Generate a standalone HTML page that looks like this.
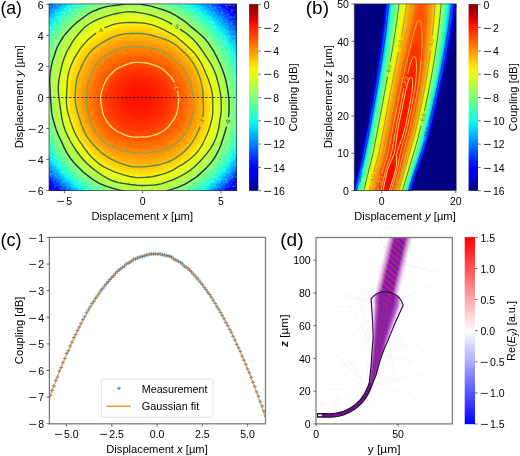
<!DOCTYPE html>
<html><head><meta charset="utf-8"><title>Figure</title>
<style>html,body{margin:0;padding:0;background:#fff}svg{display:block;font-family:'Liberation Sans', 'DejaVu Sans', sans-serif}</style></head>
<body><svg width="520" height="456" viewBox="0 0 520 456">
<defs><clipPath id="ca"><rect x="49" y="3.9" width="187.7" height="186.8"/></clipPath>
<filter id="nz" x="0" y="0" width="100%" height="100%" color-interpolation-filters="sRGB"><feTurbulence type="fractalNoise" baseFrequency="0.42" numOctaves="2" seed="7" result="t"/><feColorMatrix in="t" type="matrix" values="0 0 0 0 1  0 0 0 0 1  0 0 0 0 1  2.2 0 0 0 -1.1"/></filter>
<radialGradient id="gnz" gradientUnits="userSpaceOnUse" cx="139.5" cy="97" r="135"><stop offset="0" stop-color="#000"/><stop offset="0.25" stop-color="#222"/><stop offset="0.6" stop-color="#999"/><stop offset="1" stop-color="#fff"/></radialGradient>
<mask id="mnz" maskUnits="userSpaceOnUse" x="40" y="0" width="210" height="200"><rect x="40" y="0" width="210" height="200" fill="url(#gnz)"/></mask>
<linearGradient id="gj" x1="0" y1="0" x2="0" y2="1"><stop offset="0" stop-color="#800000"/><stop offset="0.03" stop-color="#9f0000"/><stop offset="0.06" stop-color="#c40000"/><stop offset="0.09" stop-color="#e80000"/><stop offset="0.12" stop-color="#ff1e00"/><stop offset="0.16" stop-color="#ff3b00"/><stop offset="0.19" stop-color="#ff5900"/><stop offset="0.22" stop-color="#ff7700"/><stop offset="0.25" stop-color="#ff9400"/><stop offset="0.28" stop-color="#ffb200"/><stop offset="0.31" stop-color="#ffd000"/><stop offset="0.34" stop-color="#feed00"/><stop offset="0.38" stop-color="#e4ff13"/><stop offset="0.41" stop-color="#caff2c"/><stop offset="0.44" stop-color="#b1ff46"/><stop offset="0.47" stop-color="#97ff60"/><stop offset="0.5" stop-color="#7dff7a"/><stop offset="0.53" stop-color="#63ff94"/><stop offset="0.56" stop-color="#49ffad"/><stop offset="0.59" stop-color="#30ffc7"/><stop offset="0.62" stop-color="#16ffe1"/><stop offset="0.66" stop-color="#00e0fb"/><stop offset="0.69" stop-color="#00c0ff"/><stop offset="0.72" stop-color="#00a0ff"/><stop offset="0.75" stop-color="#0080ff"/><stop offset="0.78" stop-color="#0060ff"/><stop offset="0.81" stop-color="#0040ff"/><stop offset="0.84" stop-color="#0020ff"/><stop offset="0.88" stop-color="#0000ff"/><stop offset="0.91" stop-color="#0000ed"/><stop offset="0.94" stop-color="#0000c8"/><stop offset="0.97" stop-color="#0000a4"/><stop offset="1" stop-color="#000080"/></linearGradient>
<clipPath id="cb"><rect x="354.2" y="3.9" width="102" height="186.7"/></clipPath>
<clipPath id="cc"><rect x="49.4" y="237.4" width="216.1" height="186.4"/></clipPath>
<clipPath id="cd"><rect x="316" y="237.5" width="136.3" height="186.4"/></clipPath>
<filter id="bl1" x="-20%" y="-20%" width="140%" height="140%"><feGaussianBlur stdDeviation="0.6"/></filter>
<filter id="bl2" x="-50%" y="-20%" width="200%" height="140%"><feGaussianBlur stdDeviation="2.2"/></filter>
<linearGradient id="gbm" gradientUnits="userSpaceOnUse" x1="-12" y1="0" x2="12" y2="0"><stop offset="0" stop-color="#fff" stop-opacity="0"/><stop offset="0.16" stop-color="#fff" stop-opacity="0.35"/><stop offset="0.3" stop-color="#fff" stop-opacity="1"/><stop offset="0.7" stop-color="#fff" stop-opacity="1"/><stop offset="0.84" stop-color="#fff" stop-opacity="0.35"/><stop offset="1" stop-color="#fff" stop-opacity="0"/></linearGradient>
<mask id="mbm" maskUnits="userSpaceOnUse" x="-20" y="-80" width="40" height="110"><rect x="-12" y="-80" width="24" height="110" fill="url(#gbm)"/></mask>
<pattern id="pst" patternUnits="userSpaceOnUse" width="4.6" height="4.6" patternTransform="rotate(29)"><rect width="4.6" height="4.6" fill="#8c1eb0"/><rect width="4.6" height="1.9" fill="#e2143e"/><rect y="2.3" width="4.6" height="1.9" fill="#3c24da"/></pattern>
<clipPath id="cln"><path d="M369.3 382.4L370.1 374.7L371 366.5L371.5 358.2L372.1 350L373.2 337.6L372.5 320.1L371.1 298.7C374 295 378.5 292 383.3 291.7C389 291.5 394 293.5 397.4 295.9C400 298 402 301.5 403.2 305.2L395.6 321.8L387.7 341.1L383.8 350L380.8 358.2L378.4 366.5L376.2 374.7L372.7 383.4Z"/></clipPath>
<filter id="bl3" x="-30%" y="-10%" width="160%" height="120%"><feGaussianBlur stdDeviation="1.1"/></filter>
<pattern id="pht" patternUnits="userSpaceOnUse" width="2.5" height="2.5" patternTransform="rotate(38)"><rect width="2.5" height="1.0" fill="#4c0a70"/><rect y="1.25" width="2.5" height="0.6" fill="#d24a9a"/></pattern>
<linearGradient id="gb" x1="0" y1="0" x2="0" y2="1"><stop offset="0" stop-color="#ff0000"/><stop offset="0.03" stop-color="#ff0e0e"/><stop offset="0.06" stop-color="#ff1e1e"/><stop offset="0.09" stop-color="#ff2e2e"/><stop offset="0.12" stop-color="#ff3e3e"/><stop offset="0.16" stop-color="#ff4e4e"/><stop offset="0.19" stop-color="#ff5e5e"/><stop offset="0.22" stop-color="#ff6e6e"/><stop offset="0.25" stop-color="#ff7e7e"/><stop offset="0.28" stop-color="#ff8e8e"/><stop offset="0.31" stop-color="#ff9e9e"/><stop offset="0.34" stop-color="#ffaeae"/><stop offset="0.38" stop-color="#ffbebe"/><stop offset="0.41" stop-color="#ffcece"/><stop offset="0.44" stop-color="#ffdede"/><stop offset="0.47" stop-color="#ffeeee"/><stop offset="0.5" stop-color="#fffefe"/><stop offset="0.53" stop-color="#f0f0ff"/><stop offset="0.56" stop-color="#e0e0ff"/><stop offset="0.59" stop-color="#d0d0ff"/><stop offset="0.62" stop-color="#c0c0ff"/><stop offset="0.66" stop-color="#b0b0ff"/><stop offset="0.69" stop-color="#a0a0ff"/><stop offset="0.72" stop-color="#9090ff"/><stop offset="0.75" stop-color="#8080ff"/><stop offset="0.78" stop-color="#7070ff"/><stop offset="0.81" stop-color="#6060ff"/><stop offset="0.84" stop-color="#5050ff"/><stop offset="0.88" stop-color="#4040ff"/><stop offset="0.91" stop-color="#3030ff"/><stop offset="0.94" stop-color="#2020ff"/><stop offset="0.97" stop-color="#1010ff"/><stop offset="1" stop-color="#0000ff"/></linearGradient></defs>
<rect width="520" height="456" fill="#fff"/>
<g clip-path="url(#ca)">
<rect x="49" y="3.9" width="187.7" height="186.8" fill="#0000fa"/>
<path d="M276.3 96.5L275.2 118L270.7 139.1L262.9 159.4L251.8 178.1L237.7 194.7L221.1 208.8L202.4 219.9L182.1 227.7L161 232.2L139.5 233.3L118.2 231L97.6 225.5L78.2 216.9L60.3 205.6L44.3 191.7L30.5 175.7L19.1 157.8L10.4 138.5L4.4 117.9L1.3 96.5L1.3 74.6L4.6 52.7L11.6 31.3L22.4 11.4L36.8 -6.2L54.4 -20.6L74.3 -31.4L95.7 -38.4L117.6 -41.7L139.5 -41.7L160.9 -38.6L181.5 -32.6L200.8 -23.9L218.7 -12.5L234.7 1.3L248.6 17.3L259.9 35.2L268.5 54.6L274 75.2Z" fill="#000084"/>
<path d="M274.8 96.5L273.8 117.8L269.3 138.7L261.5 158.7L250.6 177.2L236.7 193.7L220.2 207.6L201.7 218.5L181.7 226.3L160.8 230.8L139.5 231.8L118.4 229.5L98 224.1L78.8 215.6L61.1 204.4L45.3 190.7L31.6 174.9L20.4 157.2L11.7 138L5.8 117.7L2.8 96.5L2.8 74.8L6.1 53.1L13 32L23.6 12.3L37.9 -5.1L55.3 -19.4L75 -30L96.1 -36.9L117.8 -40.2L139.5 -40.2L160.7 -37.2L181 -31.3L200.2 -22.6L217.9 -11.4L233.7 2.3L247.4 18.1L258.6 35.8L267.1 55L272.5 75.4Z" fill="#00009b"/>
<path d="M273.4 96.5L272.3 117.5L267.9 138.2L260.2 158L249.4 176.3L235.6 192.6L219.3 206.4L201 217.2L181.2 224.9L160.5 229.3L139.5 230.4L118.7 228.1L98.5 222.7L79.5 214.3L62 203.2L46.3 189.7L32.8 174L21.7 156.5L13.1 137.6L7.3 117.4L4.3 96.5L4.2 75.1L7.5 53.6L14.3 32.7L24.9 13.2L39 -4L56.2 -18.1L75.7 -28.7L96.6 -35.5L118.1 -38.8L139.5 -38.7L160.4 -35.7L180.6 -29.9L199.5 -21.3L217 -10.2L232.7 3.3L246.2 19L257.3 36.5L265.7 55.5L271.1 75.7Z" fill="#0000b2"/>
<path d="M271.9 96.5L270.9 117.3L266.5 137.8L258.9 157.3L248.2 175.5L234.6 191.6L218.5 205.2L200.3 215.9L180.8 223.5L160.3 227.9L139.5 228.9L118.9 226.7L98.9 221.3L80.1 213.1L62.8 202.1L47.3 188.7L34 173.2L23 155.9L14.5 137.1L8.7 117.2L5.7 96.5L5.7 75.3L8.9 54.1L15.7 33.4L26.1 14.1L40.1 -2.9L57.1 -16.9L76.4 -27.3L97.1 -34.1L118.3 -37.3L139.5 -37.3L160.2 -34.3L180.1 -28.5L198.9 -20L216.2 -9L231.7 4.3L245.1 19.8L256.1 37.1L264.3 55.9L269.7 75.9Z" fill="#0000c8"/>
<path d="M270.4 96.5L269.4 117.1L265.1 137.3L257.6 156.7L247 174.6L233.5 190.5L217.6 204L199.7 214.6L180.3 222.1L160.1 226.4L139.5 227.4L119.1 225.3L99.4 220L80.8 211.8L63.6 200.9L48.3 187.7L35.1 172.3L24.2 155.2L15.9 136.7L10.1 117L7.2 96.5L7.2 75.5L10.4 54.5L17.1 34.1L27.4 15L41.2 -1.8L58 -15.6L77.1 -25.9L97.5 -32.6L118.5 -35.8L139.5 -35.8L160 -32.9L179.7 -27.1L198.2 -18.8L215.3 -7.9L230.7 5.3L243.9 20.6L254.8 37.8L263 56.4L268.3 76.1Z" fill="#0000da"/>
<path d="M269 96.5L268 116.8L263.7 136.9L256.3 156L245.8 173.7L232.5 189.5L216.7 202.8L199 213.3L179.9 220.7L159.8 225L139.5 226L119.3 223.8L99.8 218.6L81.4 210.5L64.5 199.8L49.3 186.7L36.3 171.5L25.5 154.6L17.2 136.2L11.6 116.8L8.7 96.5L8.6 75.8L11.8 55L18.4 34.8L28.6 15.9L42.3 -0.7L58.9 -14.4L77.8 -24.6L98 -31.2L118.8 -34.4L139.5 -34.3L159.8 -31.4L179.2 -25.8L197.6 -17.5L214.5 -6.7L229.7 6.3L242.8 21.5L253.5 38.4L261.6 56.8L266.8 76.3Z" fill="#0000f1"/>
<path d="M267.5 96.5L266.5 116.6L262.3 136.4L255 155.3L244.6 172.9L231.4 188.4L215.9 201.6L198.3 212L179.4 219.3L159.6 223.5L139.5 224.5L119.6 222.4L100.3 217.2L82.1 209.2L65.3 198.6L50.4 185.6L37.4 170.6L26.8 153.9L18.6 135.8L13 116.5L10.1 96.5L10.1 76L13.2 55.5L19.8 35.5L29.9 16.8L43.4 0.4L59.8 -13.1L78.5 -23.2L98.5 -29.8L119 -32.9L139.5 -32.9L159.5 -30L178.8 -24.4L196.9 -16.2L213.6 -5.6L228.6 7.4L241.6 22.3L252.2 39.1L260.2 57.3L265.4 76.6Z" fill="#0000ff"/>
<path d="M266.1 96.5L265.1 116.4L260.9 136L253.7 154.7L243.4 172L230.4 187.4L215 200.4L197.7 210.7L179 217.9L159.4 222.1L139.5 223.1L119.8 221L100.7 215.8L82.7 207.9L66.2 197.4L51.4 184.6L38.6 169.8L28.1 153.3L20 135.3L14.5 116.3L11.6 96.5L11.6 76.2L14.7 55.9L21.2 36.2L31.1 17.8L44.5 1.5L60.8 -11.9L79.2 -21.8L98.9 -28.3L119.2 -31.4L139.5 -31.4L159.3 -28.5L178.3 -23L196.3 -14.9L212.8 -4.4L227.6 8.4L240.4 23.2L250.9 39.7L258.8 57.7L264 76.8Z" fill="#0008ff"/>
<path d="M264.6 96.5L263.7 116.2L259.6 135.5L252.4 154L242.3 171.2L229.4 186.4L214.2 199.3L197 209.4L178.5 216.6L159.2 220.7L139.5 221.7L120 219.6L101.1 214.5L83.3 206.7L67 196.3L52.3 183.7L39.7 169L29.3 152.6L21.3 134.9L15.9 116.1L13.1 96.5L13 76.5L16.1 56.4L22.5 36.9L32.3 18.6L45.5 2.5L61.6 -10.7L79.9 -20.5L99.4 -26.9L119.5 -30L139.5 -30L159.1 -27.1L177.9 -21.7L195.6 -13.7L212 -3.2L226.6 9.4L239.3 24L249.7 40.4L257.5 58.2L262.5 77Z" fill="#0018ff"/>
<path d="M263.3 96.5L262.4 116L258.4 135.1L251.4 153.5L241.4 170.5L228.7 185.7L213.6 198.5L196.6 208.6L178.3 215.8L159 219.9L139.5 220.8L120.1 218.7L101.4 213.7L83.8 205.9L67.5 195.5L53.1 182.9L40.6 168.3L30.4 152.1L22.5 134.5L17.2 115.9L14.4 96.5L14.4 76.7L17.4 56.8L23.7 37.5L33.4 19.4L46.4 3.4L62.4 -9.7L80.4 -19.4L99.8 -25.8L119.7 -28.8L139.5 -28.7L158.9 -25.9L177.5 -20.5L195 -12.5L211.2 -2.2L225.7 10.3L238.2 24.8L248.4 41L256.2 58.6L261.2 77.2Z" fill="#002cff"/>
<path d="M262 96.5L261.2 115.8L257.3 134.8L250.4 153L240.6 169.9L228 185L213.1 197.8L196.2 207.8L178 215L158.9 219L139.5 220L120.3 217.9L101.7 212.8L84.2 205L68.1 194.7L53.8 182.2L41.5 167.7L31.4 151.6L23.7 134.1L18.5 115.7L15.8 96.5L15.7 76.9L18.7 57.2L24.8 38.1L34.4 20.2L47.3 4.3L63.1 -8.7L81 -18.4L100.1 -24.6L119.8 -27.6L139.5 -27.5L158.7 -24.7L177.1 -19.3L194.5 -11.4L210.4 -1.1L224.7 11.3L237.1 25.6L247.2 41.6L254.9 59L259.9 77.4Z" fill="#003cff"/>
<path d="M260.7 96.5L259.9 115.6L256.1 134.4L249.4 152.5L239.7 169.3L227.3 184.3L212.5 197L195.8 207L177.7 214.1L158.8 218.1L139.5 219.1L120.4 217L102 212L84.6 204.2L68.7 193.9L54.5 181.5L42.4 167L32.5 151L24.9 133.7L19.8 115.5L17.1 96.5L17.1 77.1L20 57.7L26 38.7L35.5 20.9L48.2 5.2L63.8 -7.7L81.5 -17.3L100.5 -23.5L120 -26.4L139.5 -26.3L158.5 -23.4L176.7 -18.1L193.9 -10.2L209.7 -0.1L223.8 12.2L236 26.4L246 42.2L253.6 59.4L258.5 77.7Z" fill="#004cff"/>
<path d="M259.3 96.5L258.6 115.4L255 134L248.4 152L238.9 168.7L226.6 183.6L212 196.2L195.4 206.2L177.4 213.2L158.6 217.2L139.5 218.2L120.6 216.1L102.3 211.1L85.1 203.3L69.3 193.1L55.3 180.7L43.3 166.4L33.6 150.5L26.1 133.3L21.1 115.3L18.5 96.5L18.5 77.3L21.3 58.1L27.2 39.3L36.5 21.7L49.1 6.1L64.5 -6.7L82.1 -16.2L100.9 -22.3L120.2 -25.2L139.5 -25L158.3 -22.2L176.3 -16.8L193.3 -9.1L208.9 1L222.8 13.2L234.9 27.2L244.8 42.9L252.3 59.9L257.2 77.9Z" fill="#0060ff"/>
<path d="M258 96.5L257.4 115.2L253.8 133.6L247.4 151.5L238 168.1L225.9 182.9L211.4 195.5L195 205.4L177.1 212.4L158.5 216.3L139.5 217.2L120.7 215.1L102.6 210.2L85.5 202.5L69.9 192.3L56 180L44.2 165.7L34.6 149.9L27.3 132.9L22.4 115L19.9 96.5L19.8 77.5L22.6 58.5L28.4 39.9L37.6 22.4L50 7L65.3 -5.7L82.7 -15.1L101.3 -21.1L120.4 -23.9L139.5 -23.8L158.1 -21L175.9 -15.6L192.7 -7.9L208.1 2.1L221.9 14.1L233.8 28L243.5 43.5L250.9 60.3L255.8 78.1Z" fill="#0070ff"/>
<path d="M256.6 96.5L256.1 115L252.7 133.3L246.3 150.9L237.1 167.4L225.2 182.2L210.8 194.7L194.5 204.5L176.9 211.5L158.3 215.4L139.5 216.3L120.9 214.2L102.9 209.2L85.9 201.6L70.5 191.5L56.8 179.2L45.2 165L35.7 149.4L28.6 132.5L23.7 114.8L21.3 96.5L21.2 77.8L23.9 58.9L29.6 40.5L38.6 23.2L50.9 7.9L66 -4.6L83.2 -13.9L101.7 -19.9L120.6 -22.7L139.5 -22.5L157.9 -19.7L175.5 -14.4L192.1 -6.8L207.3 3.1L221 15L232.7 28.8L242.3 44.1L249.6 60.7L254.4 78.3Z" fill="#0080ff"/>
<path d="M255.3 96.5L254.8 114.8L251.5 132.9L245.3 150.4L236.2 166.8L224.4 181.4L210.2 193.9L194.1 203.6L176.6 210.6L158.2 214.5L139.5 215.3L121 213.3L103.2 208.3L86.4 200.7L71.1 190.7L57.6 178.4L46.1 164.4L36.8 148.8L29.8 132.2L25.1 114.6L22.6 96.5L22.6 78L25.2 59.4L30.8 41.1L39.7 24L51.8 8.8L66.8 -3.6L83.8 -12.8L102.1 -18.7L120.8 -21.5L139.5 -21.3L157.7 -18.5L175.1 -13.2L191.5 -5.6L206.6 4.2L220 16L231.6 29.6L241.1 44.7L248.3 61.1L253.1 78.5Z" fill="#0090ff"/>
<path d="M253.9 96.5L253.5 114.6L250.3 132.5L244.2 149.9L235.3 166.1L223.7 180.7L209.6 193L193.6 202.8L176.3 209.6L158 213.5L139.5 214.4L121.2 212.3L103.5 207.4L86.9 199.8L71.7 189.8L58.3 177.7L47 163.7L37.9 148.3L31 131.8L26.4 114.4L24 96.5L23.9 78.2L26.5 59.8L32 41.7L40.8 24.8L52.7 9.7L67.5 -2.6L84.4 -11.7L102.4 -17.5L121 -20.2L139.5 -20L157.5 -17.2L174.7 -12L190.9 -4.4L205.8 5.3L219.1 16.9L230.5 30.4L239.9 45.4L247 61.6L251.7 78.7Z" fill="#00a0ff"/>
<path d="M252.6 96.5L252.2 114.4L249.1 132.1L243.2 149.3L234.4 165.5L222.9 179.9L209 192.2L193.2 201.9L176 208.7L157.9 212.6L139.5 213.4L121.3 211.3L103.8 206.4L87.3 198.9L72.3 189L59.1 176.9L48 163L39 147.7L32.2 131.4L27.7 114.2L25.4 96.5L25.3 78.4L27.8 60.2L33.2 42.4L41.9 25.6L53.6 10.6L68.3 -1.5L84.9 -10.6L102.8 -16.3L121.2 -19L139.5 -18.7L157.3 -15.9L174.3 -10.7L190.3 -3.3L205 6.3L218.1 17.9L229.4 31.2L238.6 46L245.7 62L250.4 78.9Z" fill="#00b0ff"/>
<path d="M251.2 96.5L250.9 114.1L247.9 131.7L242.1 148.8L233.5 164.8L222.2 179.2L208.4 191.4L192.7 201L175.6 207.8L157.7 211.6L139.5 212.4L121.5 210.3L104.1 205.5L87.8 198L73 188.1L59.9 176.1L48.9 162.3L40.1 147.2L33.5 131L29 114L26.8 96.5L26.7 78.6L29.1 60.6L34.5 43L42.9 26.3L54.6 11.6L69 -0.5L85.5 -9.4L103.2 -15.1L121.4 -17.7L139.5 -17.4L157.1 -14.7L173.9 -9.5L189.7 -2.1L204.2 7.4L217.1 18.9L228.3 32L237.4 46.6L244.4 62.4L249 79.2Z" fill="#00c0ff"/>
<path d="M249.9 96.5L249.6 113.9L246.7 131.3L241.1 148.2L232.6 164.1L221.4 178.4L207.8 190.5L192.3 200.1L175.3 206.8L157.6 210.6L139.5 211.4L121.6 209.3L104.4 204.5L88.3 197L73.6 187.2L60.7 175.3L49.8 161.6L41.2 146.6L34.7 130.6L30.4 113.8L28.2 96.5L28 78.8L30.4 61.1L35.7 43.6L44 27.1L55.5 12.5L69.8 0.6L86.1 -8.3L103.6 -13.9L121.6 -16.4L139.5 -16.2L156.9 -13.4L173.5 -8.3L189.1 -0.9L203.4 8.5L216.2 19.8L227.2 32.8L236.2 47.2L243 62.9L247.6 79.4Z" fill="#00d0ff"/>
<path d="M248.5 96.5L248.3 113.7L245.5 130.9L240 147.7L231.7 163.5L220.6 177.6L207.2 189.7L191.8 199.1L175 205.8L157.4 209.6L139.5 210.4L121.8 208.3L104.7 203.5L88.8 196.1L74.2 186.3L61.5 174.5L50.8 160.9L42.3 146L35.9 130.2L31.7 113.6L29.5 96.5L29.4 79.1L31.8 61.5L36.9 44.2L45.1 27.9L56.4 13.4L70.6 1.6L86.7 -7.1L104 -12.7L121.8 -15.2L139.5 -14.9L156.7 -12.1L173.1 -7L188.5 0.3L202.6 9.6L215.2 20.8L226 33.6L234.9 47.9L241.7 63.3L246.3 79.6Z" fill="#00e0fb"/>
<path d="M247.2 96.5L247 113.5L244.3 130.6L238.9 147.1L230.7 162.8L219.8 176.8L206.6 188.8L191.3 198.2L174.7 204.8L157.2 208.6L139.5 209.4L122 207.3L105.1 202.5L89.2 195.1L74.9 185.4L62.3 173.7L51.8 160.2L43.4 145.5L37.2 129.7L33.1 113.4L30.9 96.5L30.8 79.3L33.1 61.9L38.1 44.8L46.2 28.7L57.4 14.4L71.3 2.7L87.3 -6L104.4 -11.5L122 -13.9L139.5 -13.6L156.5 -10.8L172.7 -5.8L187.9 1.5L201.9 10.7L214.3 21.7L224.9 34.4L233.7 48.5L240.4 63.7L244.9 79.8Z" fill="#09f0ee"/>
<path d="M245.8 96.5L245.7 113.3L243.1 130.2L237.8 146.6L229.8 162.1L219 176L205.9 187.9L190.8 197.3L174.4 203.8L157.1 207.5L139.5 208.3L122.1 206.3L105.4 201.5L89.7 194.2L75.5 184.6L63.1 172.9L52.7 159.5L44.5 144.9L38.4 129.3L34.4 113.1L32.3 96.5L32.2 79.5L34.4 62.4L39.4 45.5L47.3 29.5L58.3 15.3L72.1 3.8L87.9 -4.8L104.8 -10.2L122.2 -12.6L139.5 -12.3L156.3 -9.5L172.3 -4.5L187.3 2.6L201.1 11.8L213.3 22.7L223.8 35.2L232.5 49.1L239.1 64.1L243.5 80Z" fill="#13fce4"/>
<path d="M244.4 96.5L244.4 113.1L241.9 129.8L236.7 146L228.8 161.4L218.2 175.2L205.3 187L190.3 196.3L174 202.8L156.9 206.5L139.5 207.2L122.3 205.2L105.7 200.5L90.2 193.2L76.2 183.6L63.9 172.1L53.7 158.8L45.6 144.3L39.7 128.9L35.7 112.9L33.7 96.5L33.6 79.7L35.7 62.8L40.6 46.1L48.4 30.3L59.3 16.3L72.9 4.8L88.5 -3.6L105.2 -9L122.4 -11.3L139.5 -11L156.1 -8.2L171.9 -3.3L186.7 3.8L200.3 12.9L212.3 23.7L222.7 36L231.2 49.8L237.7 64.6L242.2 80.2Z" fill="#1fffd7"/>
<path d="M243 96.5L243.1 112.9L240.6 129.4L235.6 145.5L227.8 160.7L217.4 174.4L204.6 186.1L189.9 195.3L173.7 201.8L156.7 205.4L139.5 206.2L122.5 204.1L106.1 199.4L90.7 192.2L76.9 182.7L64.8 171.2L54.7 158.1L46.8 143.7L40.9 128.5L37.1 112.7L35.1 96.5L35 79.9L37.1 63.2L41.8 46.7L49.5 31.1L60.2 17.2L73.7 5.9L89.1 -2.4L105.6 -7.7L122.6 -10L139.5 -9.7L155.9 -6.9L171.5 -2L186.1 5L199.5 14L211.4 24.6L221.6 36.9L230 50.4L236.4 65L240.8 80.5Z" fill="#2cffca"/>
<path d="M241.7 96.5L241.7 112.7L239.4 129L234.5 144.9L226.9 160L216.6 173.6L203.9 185.2L189.3 194.3L173.4 200.7L156.6 204.3L139.5 205.1L122.6 203.1L106.4 198.4L91.2 191.2L77.5 181.8L65.6 170.4L55.7 157.4L47.9 143.2L42.2 128.1L38.4 112.5L36.5 96.5L36.4 80.2L38.4 63.7L43.1 47.4L50.7 31.9L61.2 18.2L74.5 7L89.7 -1.3L106 -6.5L122.8 -8.7L139.5 -8.3L155.7 -5.6L171.1 -0.7L185.5 6.2L198.7 15L210.4 25.6L220.5 37.7L228.7 51L235.1 65.4L239.4 80.7Z" fill="#36ffc1"/>
<path d="M240.3 96.5L240.4 112.5L238.2 128.6L233.4 144.3L225.9 159.3L215.8 172.8L203.3 184.3L188.8 193.3L173 199.7L156.4 203.2L139.5 204L122.8 202L106.7 197.3L91.7 190.2L78.2 180.9L66.4 169.6L56.7 156.7L49.1 142.6L43.5 127.7L39.8 112.3L37.9 96.5L37.8 80.4L39.8 64.1L44.3 48L51.8 32.8L62.2 19.2L75.3 8.1L90.3 -0.1L106.5 -5.2L123 -7.4L139.5 -7L155.5 -4.3L170.7 0.5L184.9 7.4L197.9 16.1L209.4 26.6L219.4 38.5L227.5 51.7L233.7 65.9L238 80.9Z" fill="#43ffb4"/>
<path d="M238.9 96.5L239.1 112.3L236.9 128.2L232.2 143.8L224.9 158.6L215 172L202.6 183.3L188.3 192.3L172.7 198.6L156.2 202.1L139.5 202.9L123 200.9L107.1 196.3L92.3 189.2L78.9 179.9L67.3 168.7L57.7 155.9L50.2 142L44.7 127.3L41.2 112.1L39.3 96.5L39.2 80.6L41.1 64.5L45.6 48.6L52.9 33.6L63.1 20.1L76.1 9.2L90.9 1.1L106.9 -3.9L123.2 -6.1L139.5 -5.7L155.3 -3L170.3 1.8L184.3 8.6L197.1 17.2L208.5 27.5L218.2 39.3L226.2 52.3L232.4 66.3L236.7 81.1Z" fill="#4dffaa"/>
<path d="M237.5 96.5L237.7 112.1L235.7 127.7L231.1 143.2L223.9 157.8L214.1 171.1L201.9 182.4L187.8 191.3L172.3 197.5L156.1 201L139.5 201.7L123.1 199.7L107.4 195.2L92.8 188.2L79.6 179L68.1 167.9L58.7 155.2L51.4 141.4L46 126.9L42.5 111.9L40.7 96.5L40.6 80.8L42.5 65L46.8 49.3L54 34.4L64.1 21.1L76.9 10.3L91.5 2.3L107.3 -2.7L123.5 -4.8L139.5 -4.4L155 -1.7L169.9 3.1L183.7 9.8L196.3 18.3L207.5 28.5L217.1 40.1L225 52.9L231.1 66.7L235.3 81.3Z" fill="#5aff9d"/>
<path d="M236.1 96.5L236.4 111.8L234.4 127.3L230 142.6L222.9 157.1L213.3 170.3L201.2 181.4L187.3 190.3L172 196.5L155.9 199.9L139.5 200.6L123.3 198.6L107.8 194.1L93.3 187.1L80.3 178L69 167L59.7 154.5L52.5 140.8L47.3 126.5L43.9 111.6L42.1 96.5L42 81.1L43.8 65.4L48.1 49.9L55.2 35.2L65.1 22.1L77.7 11.4L92.1 3.6L107.7 -1.4L123.7 -3.5L139.5 -3L154.8 -0.4L169.4 4.4L183.1 11L195.5 19.5L206.5 29.5L216 40.9L223.8 53.6L229.7 67.2L233.9 81.6Z" fill="#63ff94"/>
<path d="M234.7 96.5L235 111.6L233.1 126.9L228.8 142L221.9 156.4L212.4 169.4L200.5 180.5L186.7 189.2L171.6 195.3L155.7 198.7L139.5 199.4L123.5 197.5L108.2 193L93.9 186.1L81 177L69.9 166.1L60.7 153.7L53.7 140.2L48.6 126L45.3 111.4L43.6 96.5L43.4 81.3L45.2 65.9L49.4 50.6L56.3 36.1L66.1 23.1L78.5 12.5L92.8 4.8L108.1 -0.1L123.9 -2.1L139.5 -1.7L154.6 1L169 5.7L182.4 12.2L194.7 20.6L205.5 30.5L214.9 41.8L222.5 54.2L228.4 67.6L232.5 81.8Z" fill="#6dff8a"/>
<path d="M233.3 96.5L233.7 111.4L231.9 126.5L227.6 141.4L220.9 155.6L211.5 168.5L199.8 179.5L186.2 188.2L171.3 194.2L155.5 197.6L139.5 198.3L123.7 196.3L108.5 191.8L94.4 185L81.7 176.1L70.7 165.3L61.8 153L54.8 139.6L49.9 125.6L46.6 111.2L45 96.5L44.8 81.5L46.6 66.3L50.7 51.2L57.5 36.9L67.1 24.1L79.3 13.6L93.4 6L108.5 1.2L124.1 -0.8L139.5 -0.3L154.4 2.3L168.6 6.9L181.8 13.5L193.9 21.7L204.6 31.4L213.7 42.6L221.3 54.8L227.1 68L231.1 82Z" fill="#77ff80"/>
<path d="M232 96.5L232.3 111.2L230.6 126.1L226.5 140.8L219.8 154.9L210.6 167.6L199.1 178.5L185.7 187.1L170.9 193.1L155.3 196.4L139.5 197.1L123.9 195.1L108.9 190.7L94.9 183.9L82.4 175.1L71.6 164.4L62.8 152.2L56 139L51.1 125.2L48 111L46.4 96.5L46.2 81.7L47.9 66.7L51.9 51.9L58.6 37.7L68.1 25.1L80.1 14.8L94 7.2L109 2.5L124.3 0.6L139.5 1L154.2 3.7L168.2 8.2L181.2 14.7L193.1 22.8L203.6 32.4L212.6 43.4L220 55.5L225.7 68.5L229.7 82.2Z" fill="#83ff73"/>
<path d="M230.6 96.5L231 111L229.3 125.7L225.3 140.2L218.8 154.1L209.8 166.8L198.4 177.5L185.1 186L170.5 191.9L155.1 195.2L139.5 195.9L124.1 193.9L109.3 189.6L95.5 182.9L83.1 174.1L72.5 163.5L63.9 151.5L57.2 138.4L52.4 124.8L49.4 110.8L47.8 96.5L47.7 82L49.3 67.2L53.2 52.5L59.8 38.6L69.1 26.1L80.9 15.9L94.6 8.5L109.4 3.8L124.5 1.9L139.5 2.4L154 5L167.8 9.5L180.6 15.9L192.2 23.9L202.6 33.4L211.5 44.2L218.7 56.1L224.4 68.9L228.3 82.4Z" fill="#8dff6a"/>
<path d="M229.1 96.5L229.6 110.8L228 125.3L224.1 139.6L217.7 153.4L208.9 165.9L197.6 176.5L184.5 184.9L170.1 190.8L154.9 194L139.5 194.7L124.3 192.7L109.6 188.4L96.1 181.8L83.9 173.1L73.4 162.6L64.9 150.7L58.4 137.8L53.7 124.4L50.8 110.6L49.2 96.5L49.1 82.2L50.7 67.6L54.5 53.2L60.9 39.4L70.1 27.1L81.8 17.1L95.3 9.7L109.8 5.2L124.7 3.3L139.5 3.8L153.8 6.3L167.3 10.8L179.9 17.1L191.4 25L201.6 34.4L210.3 45L217.5 56.8L223 69.4L226.9 82.7Z" fill="#97ff60"/>
<path d="M227.8 96.5L228.2 110.6L226.7 124.8L222.9 139L216.6 152.5L207.8 164.8L196.8 175.4L183.9 183.6L169.7 189.5L154.7 192.7L139.5 193.3L124.5 191.4L110.1 187.1L96.7 180.6L84.7 172L74.4 161.6L66.1 149.9L59.7 137.2L55.1 123.9L52.3 110.3L50.8 96.5L50.6 82.4L52.2 68.1L55.9 53.9L62.2 40.4L71.2 28.2L82.7 18.3L96 11.1L110.3 6.6L125 4.7L139.5 5.2L153.6 7.8L166.9 12.2L179.3 18.5L190.5 26.3L200.5 35.5L209.1 45.9L216.2 57.4L221.7 69.8L225.5 82.9Z" fill="#a0ff56"/>
<path d="M226.4 96.5L226.9 110.3L225.4 124.4L221.6 138.3L215.4 151.6L206.7 163.7L195.9 174.1L183.2 182.2L169.2 188L154.5 191.2L139.5 191.8L124.7 189.9L110.5 185.7L97.4 179.2L85.6 170.7L75.5 160.5L67.3 148.9L61.1 136.5L56.7 123.4L53.9 110.1L52.4 96.5L52.3 82.7L53.9 68.7L57.5 54.7L63.7 41.4L72.5 29.5L83.8 19.8L96.7 12.6L110.8 8.1L125.2 6.2L139.5 6.7L153.3 9.3L166.4 13.8L178.5 19.9L189.5 27.6L199.3 36.7L207.7 46.9L214.8 58.2L220.3 70.3L224.2 83.1Z" fill="#aaff4d"/>
<path d="M225.1 96.5L225.6 110.1L224 124L220.3 137.7L214.1 150.7L205.6 162.6L194.9 172.8L182.5 180.8L168.7 186.5L154.3 189.6L139.5 190.3L124.9 188.4L111 184.2L98.1 177.8L86.5 169.5L76.6 159.4L68.6 148L62.5 135.7L58.2 122.9L55.4 109.8L54.1 96.5L54 83L55.5 69.2L59.1 55.6L65.2 42.5L73.8 30.8L84.8 21.2L97.5 14.1L111.3 9.6L125.4 7.8L139.5 8.2L153.1 10.8L165.9 15.3L177.8 21.4L188.5 29L198.1 37.9L206.4 47.9L213.3 58.9L218.8 70.7L222.8 83.3Z" fill="#b4ff43"/>
<path d="M223.7 96.5L224.2 109.9L222.7 123.5L219 137L212.9 149.8L204.5 161.5L194 171.5L181.7 179.4L168.2 185L154 188.1L139.5 188.8L125.2 186.9L111.5 182.8L98.7 176.5L87.4 168.2L77.7 158.3L69.9 147.1L63.9 135L59.7 122.4L57 109.6L55.7 96.5L55.7 83.2L57.2 69.8L60.7 56.4L66.7 43.6L75.1 32.1L85.8 22.6L98.3 15.6L111.8 11.2L125.7 9.3L139.5 9.8L152.8 12.3L165.4 16.8L177 22.9L187.5 30.4L196.9 39.1L205.1 48.9L211.9 59.6L217.4 71.2L221.4 83.5Z" fill="#beff39"/>
<path d="M222.4 96.5L222.9 109.7L221.4 123.1L217.6 136.3L211.6 148.9L203.3 160.3L193 170.2L181 178L167.8 183.5L153.8 186.6L139.5 187.2L125.4 185.5L111.9 181.4L99.4 175.1L88.3 167L78.8 157.2L71.1 146.2L65.3 134.3L61.2 121.9L58.6 109.3L57.4 96.5L57.3 83.5L58.8 70.3L62.3 57.2L68.1 44.6L76.4 33.4L86.9 24L99 17.1L112.3 12.7L125.9 10.8L139.5 11.3L152.6 13.9L164.9 18.3L176.3 24.3L186.5 31.7L195.7 40.3L203.7 49.8L210.5 60.3L216 71.6L220 83.7Z" fill="#c7ff30"/>
<path d="M221 96.5L221.5 109.5L220 122.7L216.3 135.6L210.4 148L202.2 159.2L192.1 168.9L180.3 176.5L167.3 182L153.5 185.1L139.5 185.7L125.6 184L112.4 179.9L100.1 173.8L89.2 165.7L79.9 156.1L72.4 145.3L66.7 133.6L62.7 121.5L60.2 109.1L59 96.5L59 83.7L60.5 70.8L63.9 58L69.6 45.7L77.6 34.6L87.9 25.5L99.8 18.6L112.8 14.2L126.2 12.3L139.5 12.8L152.3 15.4L164.4 19.8L175.5 25.8L185.6 33.1L194.5 41.5L202.4 50.8L209.1 61L214.6 72.1L218.6 84Z" fill="#ceff29"/>
<path d="M219.4 96.5L219.9 109.2L218.4 122.1L214.8 134.9L209 147L201 158L191.1 167.5L179.5 175L166.8 180.4L153.3 183.5L139.5 184.1L125.9 182.4L112.9 178.4L100.8 172.4L90.1 164.5L81 155L73.6 144.4L68 132.9L64 121L61.6 108.8L60.4 96.5L60.5 84L62.1 71.3L65.5 58.8L71.2 46.9L79.1 36.1L89.1 27.2L100.8 20.5L113.4 16.2L126.5 14.3L139.5 14.7L152.1 17.1L163.9 21.4L174.8 27.3L184.6 34.4L193.4 42.6L201.1 51.7L207.8 61.7L213.1 72.6L217.1 84.2Z" fill="#d7ff1f"/>
<path d="M217.8 96.5L218.3 109L216.9 121.6L213.3 134.1L207.6 146L199.8 156.8L190.1 166.1L178.8 173.5L166.3 178.9L153 181.9L139.5 182.6L126.1 180.9L113.4 177L101.5 171L91 163.2L82 154L74.8 143.5L69.2 132.3L65.3 120.6L62.9 108.6L61.8 96.5L62 84.2L63.6 71.8L67.1 59.6L72.7 48L80.5 37.5L90.3 28.8L101.7 22.3L114 18.1L126.8 16.2L139.5 16.5L151.8 18.9L163.4 23.1L174 28.8L183.6 35.7L192.3 43.7L199.9 52.6L206.4 62.4L211.7 73.1L215.5 84.5Z" fill="#e1ff16"/>
<path d="M216.2 96.5L216.7 108.7L215.3 121.1L211.8 133.3L206.2 145L198.6 155.6L189.1 164.7L178 172.1L165.8 177.3L152.8 180.3L139.5 181L126.4 179.4L113.8 175.5L102.3 169.6L91.9 162L83.1 152.9L76 142.6L70.5 131.6L66.7 120.2L64.3 108.4L63.2 96.5L63.5 84.5L65.2 72.4L68.7 60.4L74.3 49.1L82 39L91.5 30.5L102.6 24.1L114.6 20L127.1 18.1L139.5 18.4L151.5 20.7L162.8 24.7L173.3 30.3L182.7 37L191.1 44.9L198.6 53.6L205 63.1L210.2 73.5L214 84.7Z" fill="#ebff0c"/>
<path d="M214.7 96.5L215.1 108.5L213.7 120.6L210.3 132.6L204.8 144L197.4 154.4L188.1 163.3L177.2 170.6L165.3 175.8L152.5 178.8L139.5 179.4L126.6 177.8L114.3 174L103 168.2L92.9 160.7L84.2 151.8L77.2 141.8L71.8 131L68 119.7L65.6 108.2L64.7 96.5L64.9 84.7L66.7 72.9L70.3 61.2L75.8 50.2L83.4 40.4L92.7 32.2L103.5 25.9L115.2 21.9L127.4 20L139.5 20.2L151.2 22.4L162.3 26.3L172.5 31.7L181.7 38.4L190 46L197.3 54.5L203.6 63.8L208.7 74L212.4 84.9Z" fill="#f1fc06"/>
<path d="M213.1 96.5L213.5 108.2L212.1 120.1L208.8 131.8L203.4 143L196.1 153.1L187.1 162L176.5 169.1L164.8 174.2L152.3 177.2L139.5 177.9L126.9 176.3L114.8 172.5L103.7 166.8L93.8 159.5L85.3 150.7L78.4 140.9L73.1 130.3L69.3 119.3L67 108L66.1 96.5L66.4 84.9L68.3 73.4L71.9 62.1L77.4 51.4L84.8 41.8L93.9 33.8L104.5 27.7L115.9 23.7L127.7 21.9L139.5 22.1L151 24.2L161.8 28L171.8 33.2L180.8 39.7L188.9 47.1L196.1 55.4L202.2 64.5L207.2 74.5L210.9 85.2Z" fill="#fbf100"/>
<path d="M211.5 96.5L212 108L210.6 119.6L207.4 131.1L202.2 142L195 152L186.1 160.7L175.7 167.6L164.2 172.7L152 175.5L139.5 176.2L127.1 174.6L115.3 170.9L104.4 165.4L94.7 158.2L86.4 149.6L79.6 140L74.4 129.7L70.7 118.9L68.5 107.8L67.5 96.5L67.9 85.2L69.8 73.9L73.4 62.8L78.8 52.4L86.1 43.1L95.1 35.3L105.3 29.5L116.5 25.6L128 23.8L139.5 23.9L150.7 25.8L161.3 29.4L171.1 34.4L180.1 40.7L188.1 47.9L195.1 56.1L201.1 65.1L206 74.9L209.5 85.4Z" fill="#ffea00"/>
<path d="M210 96.5L210.4 107.7L209.1 119.1L206 130.4L200.9 141.1L193.9 150.9L185.2 159.4L175 166.2L163.7 171.1L151.8 173.9L139.5 174.5L127.4 172.9L115.8 169.3L105.2 163.9L95.7 156.8L87.5 148.5L80.9 139.1L75.7 129L72.1 118.4L69.9 107.5L69 96.5L69.4 85.4L71.3 74.3L74.8 63.5L80.2 53.4L87.3 44.3L96.1 36.8L106.2 31.1L117.1 27.4L128.3 25.7L139.5 25.7L150.4 27.5L160.8 30.9L170.5 35.6L179.4 41.6L187.3 48.7L194.3 56.7L200.1 65.6L204.7 75.3L208.1 85.6Z" fill="#ffde00"/>
<path d="M208.5 96.5L208.9 107.5L207.6 118.6L204.6 129.7L199.6 140.2L192.8 149.8L184.3 158.1L174.3 164.8L163.2 169.5L151.5 172.2L139.5 172.8L127.7 171.2L116.4 167.7L105.9 162.4L96.6 155.5L88.6 147.4L82.1 138.2L77.1 128.3L73.5 117.9L71.4 107.3L70.5 96.5L70.9 85.6L72.8 74.8L76.3 64.3L81.5 54.4L88.6 45.6L97.2 38.3L107.1 32.8L117.7 29.3L128.6 27.5L139.5 27.6L150.2 29.2L160.4 32.3L169.9 36.8L178.7 42.5L186.6 49.4L193.4 57.3L199.1 66.1L203.5 75.7L206.7 85.9Z" fill="#ffd700"/>
<path d="M207 96.5L207.3 107.2L206.1 118.1L203.2 128.9L198.4 139.3L191.7 148.7L183.4 156.9L173.6 163.4L162.7 168L151.2 170.5L139.5 171L127.9 169.5L116.9 166.1L106.7 160.9L97.6 154.2L89.8 146.2L83.4 137.3L78.4 127.6L74.9 117.5L72.8 107.1L72 96.5L72.4 85.9L74.2 75.3L77.7 65L82.9 55.4L89.8 46.8L98.3 39.8L107.9 34.5L118.2 31.1L128.9 29.4L139.5 29.4L149.9 30.8L159.9 33.7L169.3 37.9L178 43.4L185.8 50.2L192.5 58L198 66.7L202.3 76.1L205.3 86.1Z" fill="#ffd000"/>
<path d="M205.5 96.5L205.8 107L204.6 117.7L201.8 128.2L197.1 138.4L190.6 147.6L182.4 155.6L172.8 161.9L162.2 166.4L151 168.9L139.5 169.3L128.2 167.8L117.4 164.5L107.4 159.4L98.5 152.9L90.9 145.1L84.6 136.4L79.8 126.9L76.4 117L74.3 106.8L73.5 96.5L73.9 86.1L75.7 75.8L79.1 65.7L84.2 56.3L91 48L99.3 41.2L108.8 36.2L118.8 32.9L129.2 31.2L139.5 31.2L149.6 32.5L159.4 35.1L168.8 39.1L177.4 44.4L185.1 50.9L191.6 58.6L197 67.2L201.1 76.5L203.9 86.3Z" fill="#ffc400"/>
<path d="M204 96.5L204.2 106.8L203.1 117.2L200.4 127.5L195.9 137.5L189.5 146.5L181.5 154.3L172.1 160.5L161.7 164.8L150.7 167.2L139.5 167.6L128.5 166.1L117.9 162.9L108.2 157.9L99.5 151.6L92 144L85.9 135.5L81.1 126.2L77.8 116.6L75.7 106.6L75 96.5L75.4 86.3L77.2 76.3L80.5 66.5L85.6 57.3L92.2 49.2L100.4 42.7L109.6 37.8L119.4 34.6L129.5 33.1L139.5 32.9L149.4 34.1L159 36.5L168.2 40.3L176.7 45.4L184.3 51.7L190.7 59.3L195.9 67.8L199.8 76.9L202.5 86.5Z" fill="#ffbd00"/>
<path d="M202.5 96.5L202.8 106.5L201.7 116.7L199.1 126.8L194.7 136.6L188.4 145.4L180.6 153L171.3 158.9L161.1 163.1L150.4 165.3L139.5 165.7L128.8 164.3L118.5 161.2L108.9 156.5L100.4 150.4L93 143L87 134.7L82.4 125.6L79.1 116.1L77.2 106.4L76.5 96.5L77 86.6L78.8 76.8L82.1 67.2L87 58.3L93.5 50.5L101.5 44.2L110.4 39.5L120 36.4L129.8 34.9L139.5 34.8L149.1 35.9L158.5 38.2L167.4 41.7L175.8 46.6L183.2 52.8L189.6 60.1L194.7 68.4L198.5 77.3L201.1 86.7Z" fill="#ffb600"/>
<path d="M201.1 96.5L201.4 106.3L200.4 116.3L197.8 126.2L193.5 135.7L187.4 144.4L179.6 151.7L170.5 157.4L160.5 161.3L150.1 163.4L139.5 163.7L129.1 162.4L119 159.5L109.7 155.1L101.2 149.2L93.9 142.1L88 133.9L83.5 125L80.4 115.7L78.7 106.1L78.1 96.5L78.6 86.9L80.4 77.3L83.6 68L88.4 59.4L94.8 51.8L102.6 45.7L111.3 41.2L120.6 38.3L130.1 36.8L139.5 36.7L148.8 37.7L157.9 39.9L166.6 43.3L174.7 48L182.1 53.9L188.3 61.1L193.3 69.1L197 77.8L199.6 87Z" fill="#ffae00"/>
<path d="M199.6 96.5L199.7 110.3L197 124.2L190.7 137.4L180.9 148.5L168.3 156.4L154.2 160.8L139.5 161.8L125.1 159.6L111.7 154.3L99.9 146.2L90.6 135.5L84.2 123.1L80.7 109.9L79.6 96.5L80.8 83.1L84.6 70.1L91.5 58.2L101.4 48.7L113.4 42.3L126.4 39.1L139.5 38.6L152.3 40.3L164.6 44.3L175.9 50.9L185.3 59.9L192.5 71L197.2 83.3Z" fill="#ffa700"/>
<path d="M198.2 96.5L198.4 109.9L195.7 123.6L189.6 136.4L179.9 147.2L167.6 154.8L153.7 158.9L139.5 159.8L125.5 157.8L112.4 152.9L100.8 145.1L91.6 134.7L85.4 122.5L82.1 109.6L81.2 96.5L82.4 83.5L86.2 70.8L92.9 59.3L102.5 50.1L114.2 44L126.8 40.9L139.5 40.5L151.9 42.1L163.9 45.9L174.8 52.2L184.1 60.9L191.1 71.7L195.8 83.7Z" fill="#ff9f00"/>
<path d="M196.7 96.5L197 109.6L194.4 122.9L188.4 135.5L178.9 145.9L166.8 153.2L153.3 157L139.5 157.9L125.9 156L113.1 151.4L101.7 143.9L92.7 133.8L86.6 122L83.5 109.3L82.7 96.5L84 83.8L87.7 71.6L94.3 60.4L103.6 51.5L115 45.7L127.2 42.8L139.5 42.3L151.5 43.8L163.1 47.5L173.8 53.5L182.8 61.9L189.7 72.3L194.3 84Z" fill="#ff9800"/>
<path d="M195.3 96.5L195.6 109.3L193.1 122.3L187.2 134.5L177.9 144.6L166 151.6L152.9 155.2L139.5 155.9L126.3 154.2L113.8 149.9L102.6 142.8L93.7 133L87.9 121.4L84.9 109L84.3 96.5L85.6 84.2L89.3 72.3L95.6 61.5L104.8 52.9L115.8 47.3L127.6 44.5L139.5 44.1L151.1 45.6L162.4 49L172.7 54.8L181.6 62.9L188.3 73L192.9 84.3Z" fill="#ff9100"/>
<path d="M193.8 96.5L194.2 109L191.8 121.7L186 133.6L176.9 143.4L165.2 150L152.5 153.3L139.5 154L126.7 152.5L114.5 148.5L103.5 141.7L94.8 132.2L89.1 120.8L86.3 108.6L85.8 96.5L87.2 84.6L90.8 73L97 62.6L105.9 54.3L116.6 48.9L128 46.3L139.5 45.9L150.7 47.3L161.6 50.6L171.7 56.1L180.4 63.9L187 73.6L191.4 84.7Z" fill="#ff8900"/>
<path d="M192.3 96.5L192.7 108.6L190.3 121L184.7 132.5L175.8 142L164.5 148.3L152.1 151.6L139.5 152.3L127.1 150.8L115.2 147L104.4 140.5L96 131.2L90.4 120.1L87.7 108.3L87.3 96.5L88.8 84.9L92.3 73.8L98.4 63.7L107 55.8L117.4 50.6L128.4 48L139.5 47.7L150.4 49L160.9 52.1L170.7 57.4L179.1 64.9L185.6 74.3L190 85Z" fill="#ff8200"/>
<path d="M190.8 96.5L191.1 108.3L188.8 120.2L183.3 131.4L174.6 140.5L163.7 146.7L151.7 149.9L139.5 150.6L127.5 149.3L115.9 145.6L105.4 139.2L97.2 130.2L91.8 119.5L89.2 108L88.8 96.5L90.3 85.3L93.9 74.5L99.9 64.9L108.2 57.3L118.2 52.3L128.8 49.8L139.5 49.4L150 50.6L160.2 53.6L169.7 58.6L177.9 65.9L184.2 75L188.5 85.3Z" fill="#ff7e00"/>
<path d="M189.3 96.5L189.6 107.9L187.2 119.5L181.8 130.3L173.5 139.1L162.9 145.1L151.3 148.3L139.5 149L127.8 147.7L116.6 144.1L106.5 137.9L98.4 129.2L93.2 118.8L90.6 107.7L90.3 96.5L91.9 85.6L95.4 75.3L101.3 66L109.4 58.7L119 53.9L129.2 51.5L139.5 51L149.6 52.2L159.5 55L168.7 59.9L176.6 66.9L182.8 75.6L187.1 85.6Z" fill="#ff7700"/>
<path d="M187.8 96.5L188 107.6L185.7 118.7L180.4 129.1L172.3 137.7L162.1 143.5L150.9 146.6L139.5 147.4L128.2 146.1L117.3 142.7L107.5 136.7L99.7 128.2L94.6 118.1L92.1 107.3L91.8 96.5L93.4 86L97 76L102.7 67.2L110.5 60.2L119.8 55.5L129.6 53.2L139.5 52.7L149.3 53.7L158.8 56.5L167.7 61.2L175.4 67.9L181.4 76.3L185.6 86Z" fill="#ff6f00"/>
<path d="M186.3 96.5L186.4 107.2L184.1 118L179 128L171.2 136.3L161.4 141.9L150.6 145L139.5 145.8L128.5 144.6L118 141.2L108.5 135.4L100.9 127.3L95.9 117.5L93.5 107L93.3 96.5L94.9 86.3L98.5 76.8L104.1 68.3L111.7 61.6L120.5 57.1L130 54.8L139.5 54.3L148.9 55.3L158.1 57.9L166.7 62.4L174.2 68.8L180.1 77L184.1 86.3Z" fill="#ff6c00"/>
<path d="M184.8 96.5L184.9 106.9L182.6 117.3L177.6 126.9L170.1 134.8L160.6 140.3L150.2 143.3L139.5 144.1L128.9 143L118.7 139.7L109.5 134.1L102.2 126.3L97.3 116.8L95 106.7L94.8 96.5L96.5 86.7L100 77.5L105.5 69.4L112.8 63L121.3 58.7L130.4 56.5L139.5 55.9L148.6 56.8L157.4 59.3L165.7 63.6L173 69.8L178.7 77.6L182.7 86.6Z" fill="#ff6400"/>
<path d="M183.3 96.5L183.3 106.5L181.1 116.5L176.2 125.8L169 133.4L159.9 138.8L149.8 141.7L139.5 142.5L129.2 141.4L119.4 138.3L110.5 132.9L103.4 125.3L98.7 116.1L96.4 106.3L96.3 96.5L98 87L101.5 78.2L106.9 70.5L113.9 64.4L122.1 60.3L130.7 58.1L139.5 57.5L148.2 58.4L156.7 60.8L164.7 64.9L171.8 70.8L177.3 78.3L181.2 87Z" fill="#ff6000"/>
<path d="M181.8 96.5L181.8 106.2L179.6 115.8L174.9 124.7L167.8 132L159.1 137.2L149.4 140.1L139.5 140.9L129.6 139.9L120.1 136.8L111.5 131.6L104.7 124.3L100.1 115.5L97.9 106L97.8 96.5L99.5 87.4L103 78.9L108.2 71.5L115 65.8L122.8 61.8L131.1 59.7L139.5 59.1L147.9 59.9L156 62.2L163.8 66.1L170.6 71.7L176 78.9L179.8 87.3Z" fill="#ff5900"/>
<path d="M180.3 96.5L180.3 105.8L178 115.1L173.5 123.6L166.7 130.7L158.3 135.6L149.1 138.5L139.5 139.3L130 138.3L120.8 135.4L112.5 130.3L105.9 123.3L101.5 114.8L99.3 105.7L99.3 96.5L101 87.7L104.4 79.6L109.5 72.6L116.1 67.1L123.5 63.3L131.5 61.3L139.5 60.7L147.5 61.4L155.4 63.5L162.8 67.3L169.4 72.7L174.6 79.6L178.3 87.6Z" fill="#ff5500"/>
<path d="M178.8 96.5L178.7 105.5L176.5 114.3L172.1 122.5L165.6 129.3L157.6 134.1L148.7 136.8L139.5 137.7L130.3 136.7L121.5 133.9L113.5 129.1L107.2 122.3L102.9 114.1L100.8 105.3L100.8 96.5L102.5 88.1L105.9 80.3L110.9 73.7L117.1 68.4L124.3 64.8L131.8 62.8L139.5 62.2L147.2 62.9L154.7 64.9L161.8 68.5L168.2 73.6L173.3 80.2L176.9 88Z" fill="#ff4e00"/>
<path d="M177.2 96.5L177.2 105.1L175.1 113.6L170.9 121.5L164.6 128L156.9 132.6L148.3 135.3L139.5 136.1L130.7 135.2L122.2 132.5L114.5 127.8L108.4 121.3L104.3 113.5L102.3 105L102.2 96.5L103.9 88.4L107.2 81L112 74.6L118 69.5L124.9 66.1L132.1 64.2L139.5 63.6L146.9 64.2L154.1 66.2L161 69.6L167.1 74.5L172 80.9L175.4 88.3Z" fill="#ff4a00"/>
<path d="M175.7 96.5L175.7 104.8L173.7 113L169.6 120.5L163.6 126.7L156.2 131.2L148 133.7L139.5 134.5L131 133.7L122.9 131L115.5 126.6L109.7 120.3L105.7 112.8L103.8 104.7L103.7 96.5L105.3 88.7L108.5 81.6L113.1 75.4L118.9 70.6L125.4 67.3L132.4 65.5L139.5 64.9L146.6 65.5L153.5 67.4L160.1 70.7L166 75.4L170.7 81.5L174 88.6Z" fill="#ff4700"/>
<path d="M174.2 96.5L174.2 104.4L172.3 112.3L168.4 119.5L162.6 125.5L155.5 129.7L147.6 132.2L139.5 132.9L131.4 132.1L123.6 129.6L116.5 125.3L110.9 119.3L107.1 112.1L105.3 104.3L105.2 96.5L106.8 89L109.8 82.2L114.2 76.3L119.7 71.7L126 68.5L132.7 66.8L139.5 66.2L146.3 66.8L152.9 68.6L159.2 71.7L164.8 76.3L169.4 82.1L172.6 89Z" fill="#ff4300"/>
<path d="M172.7 96.5L172.7 104.1L170.8 111.6L167.1 118.5L161.6 124.2L154.8 128.3L147.3 130.6L139.5 131.3L131.7 130.6L124.3 128.2L117.5 124.1L112.1 118.3L108.5 111.4L106.7 104L106.7 96.5L108.2 89.4L111.1 82.8L115.3 77.2L120.6 72.8L126.6 69.8L133 68.1L139.5 67.5L146 68.1L152.4 69.8L158.4 72.8L163.7 77.2L168.1 82.7L171.1 89.3Z" fill="#ff3b00"/>
<path d="M171.2 96.5L171.2 103.7L169.4 110.9L165.8 117.5L160.6 123L154.1 126.8L146.9 129.1L139.5 129.7L132.1 129L124.9 126.7L118.5 122.8L113.4 117.3L109.9 110.7L108.2 103.6L108.2 96.5L109.6 89.7L112.4 83.4L116.4 78.1L121.4 73.9L127.2 71L133.3 69.3L139.5 68.9L145.7 69.4L151.8 71L157.5 73.9L162.6 78L166.8 83.4L169.7 89.6Z" fill="#ff3800"/>
<path d="M169.7 96.5L169.7 103.4L168 110.2L164.6 116.5L159.6 121.7L153.4 125.4L146.6 127.5L139.5 128.2L132.4 127.5L125.6 125.3L119.5 121.5L114.6 116.3L111.3 110.1L109.7 103.3L109.7 96.5L111 90L113.7 84.1L117.5 79L122.3 74.9L127.8 72.2L133.6 70.6L139.5 70.2L145.4 70.7L151.2 72.2L156.7 75L161.5 78.9L165.5 84L168.3 89.9Z" fill="#ff3400"/>
<path d="M168.2 96.5L168.2 103L166.6 109.5L163.3 115.5L158.6 120.4L152.7 124L146.2 126L139.5 126.6L132.8 125.9L126.3 123.8L120.5 120.3L115.9 115.3L112.7 109.4L111.2 103L111.2 96.5L112.5 90.3L115 84.7L118.6 79.8L123.2 76L128.4 73.4L133.9 71.9L139.5 71.5L145.1 72L150.6 73.4L155.8 76L160.4 79.8L164.2 84.6L166.8 90.3Z" fill="#ff3000"/>
<path d="M166.7 96.5L166.6 102.7L165.1 108.8L162.1 114.5L157.6 119.2L152 122.5L145.9 124.4L139.5 125L133.1 124.4L127 122.4L121.5 119L117.1 114.4L114.1 108.7L112.7 102.6L112.7 96.5L113.9 90.7L116.3 85.3L119.7 80.7L124 77.1L129 74.6L134.2 73.2L139.5 72.8L144.8 73.3L150 74.7L155 77.1L159.3 80.7L162.9 85.2L165.4 90.6Z" fill="#ff2d00"/>
<path d="M165.2 96.5L165.1 102.4L163.7 108.2L160.8 113.5L156.6 117.9L151.3 121.1L145.5 122.9L139.5 123.4L133.5 122.8L127.7 121L122.5 117.8L118.4 113.4L115.6 108L114.2 102.3L114.2 96.5L115.3 91L117.5 85.9L120.8 81.6L124.9 78.2L129.5 75.8L134.5 74.5L139.5 74.1L144.5 74.6L149.4 75.9L154.1 78.2L158.2 81.6L161.6 85.9L163.9 90.9Z" fill="#ff2d00"/>
<path d="M163.7 96.5L162.8 106.1L157.7 114.7L149.3 120.2L139.5 121.8L129.7 120.1L121.4 114.6L116.5 106L115.7 96.5L118.2 87.7L123.7 80.7L131.3 76.7L139.5 75.4L147.7 76.7L155.3 80.7L160.9 87.6Z" fill="#ff2900"/>
<path d="M162.1 96.5L161.3 105.5L156.6 113.6L148.7 118.7L139.5 120.2L130.3 118.6L122.5 113.5L118 105.4L117.1 96.5L119.6 88.2L124.7 81.7L131.8 77.9L139.5 76.8L147.2 77.9L154.3 81.7L159.6 88.2Z" fill="#ff2500"/>
<path d="M160.6 96.5L159.8 104.9L155.4 112.4L148.1 117.2L139.5 118.7L131 117.1L123.7 112.3L119.4 104.8L118.6 96.5L120.9 88.8L125.7 82.7L132.3 79.1L139.5 78.1L146.7 79.2L153.3 82.7L158.3 88.7Z" fill="#ff2200"/>
<path d="M159.1 96.5L158.4 104.3L154.3 111.3L147.5 115.7L139.5 117.1L131.6 115.7L124.8 111.2L120.8 104.2L120.1 96.5L122.2 89.3L126.7 83.7L132.8 80.4L139.5 79.4L146.2 80.4L152.3 83.7L156.9 89.3Z" fill="#ff2200"/>
<path d="M157.6 96.5L156.9 103.7L153.2 110.2L146.8 114.2L139.5 115.5L132.2 114.2L125.9 110.1L122.3 103.6L121.6 96.5L123.5 89.9L127.7 84.7L133.3 81.6L139.5 80.7L145.7 81.6L151.3 84.7L155.6 89.8Z" fill="#ff1e00"/>
<path d="M156.1 96.5L155.5 103.1L152 109L146.2 112.8L139.5 113.9L132.8 112.7L127.1 108.9L123.7 103L123.1 96.5L124.9 90.4L128.7 85.7L133.8 82.9L139.5 82L145.1 82.9L150.3 85.7L154.2 90.4Z" fill="#ff1a00"/>
<path d="M154.6 96.5L154 102.5L150.9 107.9L145.6 111.3L139.5 112.3L133.4 111.2L128.2 107.8L125.1 102.4L124.6 96.5L126.2 91L129.6 86.6L134.4 84.1L139.5 83.3L144.6 84.1L149.4 86.6L152.9 91Z" fill="#ff1a00"/>
<path d="M153.1 96.5L152.6 101.9L149.7 106.7L145 109.8L139.5 110.7L134 109.8L129.3 106.7L126.6 101.9L126.1 96.5L127.5 91.5L130.6 87.6L134.9 85.3L139.5 84.7L144.1 85.4L148.4 87.6L151.6 91.5Z" fill="#ff1600"/>
<path d="M151.6 96.5L151.1 101.3L148.6 105.6L144.4 108.3L139.5 109.2L134.6 108.3L130.5 105.5L128 101.3L127.6 96.5L128.9 92.1L131.6 88.6L135.4 86.6L139.5 86L143.6 86.6L147.4 88.6L150.2 92.1Z" fill="#ff1600"/>
<path d="M150.1 96.5L149.7 100.7L147.5 104.5L143.8 106.9L139.5 107.6L135.2 106.8L131.6 104.4L129.4 100.7L129.1 96.5L130.2 92.6L132.6 89.6L135.9 87.8L139.5 87.3L143.1 87.8L146.4 89.6L148.9 92.6Z" fill="#ff1600"/>
<path d="M148.6 96.5L148.2 100.1L146.3 103.3L143.2 105.4L139.5 106L135.8 105.3L132.7 103.3L130.9 100.1L130.6 96.5L131.5 93.2L133.6 90.6L136.4 89.1L139.5 88.6L142.6 89.1L145.4 90.6L147.5 93.2Z" fill="#ff1300"/>
<path d="M147 96.5L146.8 99.5L145.2 102.2L142.6 103.9L139.5 104.4L136.4 103.9L133.8 102.2L132.3 99.5L132 96.5L132.9 93.7L134.6 91.6L136.9 90.3L139.5 89.9L142.1 90.3L144.4 91.6L146.2 93.7Z" fill="#ff1300"/>
<path d="M145.5 96.5L145.3 98.9L144.1 101.1L141.9 102.4L139.5 102.8L137.1 102.4L135 101L133.8 98.9L133.5 96.5L134.2 94.3L135.6 92.6L137.4 91.5L139.5 91.2L141.6 91.5L143.4 92.6L144.9 94.3Z" fill="#ff1300"/>
<path d="M144 96.5L143.9 98.3L142.9 99.9L141.3 100.9L139.5 101.2L137.7 100.9L136.1 99.9L135.2 98.3L135 96.5L135.5 94.8L136.5 93.5L138 92.8L139.5 92.6L141 92.8L142.5 93.5L143.5 94.8Z" fill="#ff1300"/>
<path d="M142.5 96.5L142.4 97.7L141.8 98.8L140.7 99.5L139.5 99.7L138.3 99.4L137.2 98.8L136.6 97.7L136.5 96.5L136.8 95.4L137.5 94.5L138.5 94L139.5 93.9L140.5 94L141.5 94.5L142.2 95.4Z" fill="#ff1300"/>
<path d="M141 96.5L141 97.1L140.6 97.6L140.1 98L139.5 98.1L138.9 98L138.4 97.6L138.1 97.1L138 96.5L138.2 95.9L138.5 95.5L139 95.3L139.5 95.2L140 95.3L140.5 95.5L140.8 95.9Z" fill="#ff1300"/>
<rect x="49" y="3.9" width="187.7" height="186.8" filter="url(#nz)" mask="url(#mnz)" fill="#fff" opacity="0.55"/>
<path d="M177.57 90.81L178.08 93.39L178.41 96.01L178.56 98.67L178.6 101.35L178.33 104.02L178.14 106.75L177.68 109.46L177.09 112.18L176.19 114.82L174.91 117.29L173.54 119.73L171.89 121.99L170.24 124.27L168.42 126.44L166.48 128.52L164.22 130.25L161.8 131.73L159.3 133.06L156.75 134.26L154.08 135.18L151.38 135.92L148.65 136.55L145.88 136.85L143.1 136.98L140.35 137.14L137.58 137.18L134.81 137.13L132.03 136.86L129.26 136.48L126.58 135.64L123.98 134.6L121.43 133.46L118.89 132.28L116.44 130.9L114.15 129.28L111.94 127.53L109.95 125.53L108.24 123.29L106.63 121.01L105.21 118.61L103.95 116.14L103 113.55L102.36 110.86L101.8 108.2L101.41 105.54L100.96 102.92L100.8 100.27L100.69 97.64L100.91 95.01L101.49 92.43L102.08 89.9L102.99 87.47L103.79 85.05L104.92 82.75L106.01 80.48L107.43 78.39L108.93 76.38L110.52 74.47L112.27 72.71L114 70.98L115.95 69.48L117.98 68.14L120.21 67.14L122.41 66.17L124.6 65.27L126.8 64.45L128.99 63.62L131.25 63.01L133.56 62.62L135.88 62.39L138.21 62.4L140.53 62.46L142.84 62.59L145.15 62.8L147.44 63.18L149.72 63.7L151.95 64.4L154.19 65.11L156.44 65.92L158.63 66.89L160.78 68.01L162.8 69.37L164.61 70.99L166.44 72.61L168.21 74.34L169.99 76.11L171.66 78.02L173.12 80.11L174.45 82.31" fill="none" stroke="#f8dc6e" stroke-width="1.4" stroke-linejoin="round"/>
<text transform="translate(176.1 86.5) rotate(74.7)" font-size="6" text-anchor="middle" fill="#f8dc6e" y="2.1">-1</text>
<path d="M192.84 96.5L193.39 100.27L193.73 104.12L193.74 108.03L193.31 111.93L192.57 115.82L191.41 119.61L190.12 123.42L188.66 127.22L186.81 130.87L184.68 134.41L182.23 137.76L179.27 140.66L176.02 143.25L172.7 145.72L169.13 147.82L165.35 149.49L161.36 150.62L157.34 151.4L153.34 152.01L149.4 152.64L145.45 153.07L141.48 153.27L137.52 153.21L133.58 152.78L129.69 152.16L125.85 151.25L122 150.37L118.19 149.25L114.47 147.81L110.93 145.98L107.45 144.02L104.26 141.61L101.12 139.12L98.32 136.27L95.88 133.1L93.74 129.75L92.09 126.13L90.73 122.43L89.48 118.77L88.4 115.1L87.46 111.42L86.77 107.71L86.36 103.97L86.39 100.21L86.59 96.5L86.74 92.81L87.13 89.14L87.67 85.48L88.42 81.85L89.57 78.33L90.9 74.86L92.3 71.41L93.92 68.02L95.9 64.82L98.23 61.87L101.04 59.36L103.96 57.02L107.04 54.95L110.18 53.03L113.35 51.2L116.67 49.7L120.15 48.6L123.64 47.67L127.21 47.21L130.73 46.74L134.24 46.5L137.75 46.45L141.24 46.71L144.69 47.11L148.11 47.67L151.53 48.24L154.92 49.04L158.32 49.92L161.61 51.18L164.72 52.81L167.82 54.51L170.63 56.65L173.43 58.82L176.32 60.95L178.87 63.46L181.35 66.09L183.54 68.98L185.41 72.09L187.19 75.27L188.77 78.57L190.15 81.98L191.12 85.53L191.89 89.14L192.5 92.79Z" fill="none" stroke="#93a04e" stroke-width="1.4" stroke-linejoin="round"/>
<path d="M200.06 126.59L198.39 131.02L196.27 135.27L193.98 139.49L191.46 143.66L188.27 147.32L184.89 150.86L181.14 154L177.16 156.87L173.03 159.54L168.63 161.75L163.99 163.42L159.22 164.6L154.41 165.46L149.6 166.16L144.77 166.75L139.92 166.9L135.06 166.86L130.23 166.29L125.55 164.99L120.97 163.46L116.55 161.61L112.19 159.7L108.09 157.29L104.17 154.66L100.4 151.87L97.08 148.54L93.87 145.21L90.85 141.73L88.04 138.11L85.54 134.3L83.63 130.14L81.84 126.01L80.48 121.74L79.1 117.53L77.84 113.31L76.65 109.05L75.79 104.71L75.31 100.3L75.17 95.87L75.39 91.44L75.77 87.01L76.22 82.56L77.22 78.2L78.41 73.87L80.21 69.76L81.95 65.6L83.94 61.53L86.16 57.56L88.75 53.79L91.81 50.38L95.26 47.38L98.99 44.75L102.87 42.4L106.78 40.17L110.74 38.06L114.92 36.42L119.17 35.01L123.56 34.18L127.97 33.6L132.38 33.45L136.76 33.34L141.11 33.55L145.42 34.12L149.69 34.78L153.83 35.97L157.96 37.14L162.04 38.46L166.18 39.76L170.11 41.58L173.9 43.7L177.38 46.3L180.59 49.21L183.79 52.12L186.89 55.15L189.71 58.45L192.33 61.93L194.59 65.65L196.59 69.52L198.18 73.57L199.83 77.6L201.02 81.8L202.03 86.05L202.58 90.39L203.01 94.74L203.07 99.13L203.4 103.58L203.43 108.09L203.27 112.67L202.74 117.26" fill="none" stroke="#578650" stroke-width="1.4" stroke-linejoin="round"/>
<text transform="translate(201.5 121.9) rotate(-67.7)" font-size="6" text-anchor="middle" fill="#578650" y="2.1">-3</text>
<path d="M104.43 27.95L109.33 25.87L114.33 24.07L119.57 23.16L124.83 22.67L130.06 22.55L135.22 22.49L140.34 22.9L145.41 23.32L150.38 24.44L155.21 25.93L159.84 27.86L164.35 29.93L168.68 32.29L172.98 34.58L177.03 37.28L180.74 40.42L184.38 43.57L187.92 46.81L191.43 50.1L194.79 53.59L197.66 57.49L200.34 61.54L202.55 65.85L204.53 70.28L206.36 74.78L208.32 79.3L209.88 84.01L211.41 88.81L212.28 93.78L212.65 98.83L212.85 103.94L212.84 109.11L212.65 114.35L211.74 119.53L210.45 124.65L208.88 129.75L206.93 134.76L204.65 139.68L202.3 144.69L199.3 149.34L195.85 153.7L191.79 157.48L187.45 160.96L182.85 164.08L178.05 166.87L173.3 169.8L168.19 172.06L162.98 174.14L157.53 175.46L152.06 176.75L146.47 177.27L140.87 177.61L135.27 177.43L129.74 176.48L124.34 175.06L119.05 173.45L113.88 171.55L108.87 169.32L103.97 166.92L99.33 164.04L95.19 160.48L91.29 156.74L87.73 152.74L84.62 148.41L81.63 144.1L78.67 139.86L76.13 135.35L73.87 130.73L72.07 125.94L70.33 121.16L69.01 116.26L67.57 111.39L66.7 106.38L66.36 101.31L66.58 96.25L66.65 91.2L67.16 86.17L67.3 81.04L67.98 75.92L69.17 70.88L70.75 65.92L72.91 61.17L75.31 56.53L78.04 52.06L80.98 47.68L84.38 43.64L88.01 39.79L91.99 36.29L96.22 33.07" fill="none" stroke="#386648" stroke-width="1.4" stroke-linejoin="round"/>
<text transform="translate(100.3 30.5) rotate(-30.7)" font-size="6" text-anchor="middle" fill="#386648" y="2.1">-4</text>
<path d="M179.9 29.14L184.49 32.07L188.78 35.42L192.88 39L196.58 42.98L199.9 47.26L202.96 51.71L205.92 56.2L208.92 60.72L211.78 65.37L214.06 70.35L216.14 75.45L217.58 80.78L219.06 86.15L220.16 91.65L220.98 97.26L221.2 102.93L221.32 108.69L220.87 114.46L219.91 120.19L219.13 126.1L217.81 131.96L216.05 137.78L213.58 143.34L210.59 148.68L206.84 153.51L202.87 158.17L198.66 162.66L194.29 167.05L189.38 170.84L184.19 174.25L178.73 177.23L173.04 179.74L167.18 181.8L161.28 183.83L155.15 184.99L148.94 185.41L142.75 185.52L136.58 185.21L130.47 184.56L124.42 183.58L118.35 182.61L112.49 180.77L106.92 178.2L101.7 174.99L96.73 171.53L91.99 167.86L87.51 163.94L83.31 159.78L79.57 155.24L76.14 150.53L72.96 145.71L70.09 140.74L67.61 135.6L65.22 130.46L63.44 125.08L62.11 119.61L61.19 114.08L60.39 108.58L59.68 103.07L58.83 97.54L58.37 91.91L58.33 86.24L58.72 80.54L59.82 74.93L61.01 69.29L62.33 63.59L64.18 58.01L66.45 52.54L69.27 47.31L72.26 42.09L75.78 37.18L79.71 32.55L83.86 28.04L88.66 24.25L93.97 21.2L99.51 18.65L105.24 16.63L110.98 14.81L116.84 13.49L122.69 12.36L128.59 11.66L134.54 12.01L140.4 12.86L146.13 13.86L151.72 15.28L157.16 17.06L162.4 19.19L167.48 21.55L172.29 24.37" fill="none" stroke="#2f4f4a" stroke-width="1.4" stroke-linejoin="round"/>
<text transform="translate(176.3 26.3) rotate(27.7)" font-size="6" text-anchor="middle" fill="#2f4f4a" y="2.1">-5</text>
<path d="M226.62 126.59L224.8 132.77L222.81 138.97L220.8 145.33L218.08 151.46L214.83 157.39L210.9 162.91L206.3 167.89L201.4 172.62L196.26 177.14L190.51 180.86L184.62 184.37L178.32 187.07L171.88 189.35L165.36 191.37L158.69 192.8L151.94 193.75L145.16 194.31L138.36 193.97L131.66 193.01L125.08 191.54L118.62 189.87L112.2 188.17L105.89 186.11L99.77 183.52L93.99 180.26L88.62 176.38L83.48 172.27L78.77 167.72L74.22 163.08L70.23 157.97L66.71 152.57L63.77 146.87L61.21 141.07L58.5 135.44L56.14 129.67L54.33 123.71L52.64 117.74L51.55 111.63L51.18 105.44L50.53 99.3L50.31 93.11L49.98 86.85L49.62 80.44L50.06 74.02L51.08 67.62L52.4 61.19L54.55 54.98L56.58 48.58L59.7 42.67L63.18 36.91L67.44 31.71L72.08 26.83L77.06 22.31L82.4 18.21L87.82 14.2L93.75 10.98L100 8.48L106.47 6.68L113.07 5.58L119.61 4.74L126.08 4.02L132.58 3.9L139.02 4.05L145.39 4.94L151.62 6.39L157.7 8.14L163.68 9.98L169.51 12.21L175.06 15.01L180.28 18.34L185.31 21.84L189.92 25.84L194.6 29.64L199.26 33.46L203.78 37.49L207.68 42.12L211.1 47.11L214.29 52.24L217.08 57.58L219.71 63.01L222.02 68.6L224.07 74.31L225.8 80.15L227.06 86.14L228.09 92.22L228.85 98.39L229.05 104.63L229.06 110.95L228.49 117.28" fill="none" stroke="#262c40" stroke-width="1.4" stroke-linejoin="round"/>
<text transform="translate(227.8 122) rotate(-73.9)" font-size="6" text-anchor="middle" fill="#262c40" y="2.1">-6</text>
<path d="M49 97.5H236.7" stroke="#1a1a1a" stroke-width="0.75" stroke-dasharray="2.5 1.5" fill="none"/>
</g>
<rect x="49" y="3.9" width="187.7" height="186.8" fill="none" stroke="#2a2a2a" stroke-width="0.65"/>
<path d="M64.35 190.7v2.7M142.6 190.7v2.7M220.85 190.7v2.7" stroke="#222" stroke-width="0.65" fill="none"/>
<text x="56.67" y="205.2" font-size="11.7" text-anchor="start" fill="#000" textLength="8.3" lengthAdjust="spacingAndGlyphs">−</text>
<text x="66.17" y="205.2" font-size="11.7" text-anchor="start" fill="#000" textLength="5.86" lengthAdjust="spacingAndGlyphs">5</text>
<text x="139.67" y="205.2" font-size="11.7" text-anchor="start" fill="#000" textLength="5.86" lengthAdjust="spacingAndGlyphs">0</text>
<text x="217.92" y="205.2" font-size="11.7" text-anchor="start" fill="#000" textLength="5.86" lengthAdjust="spacingAndGlyphs">5</text>
<path d="M49 4.38h-2.7M49 35.42h-2.7M49 66.46h-2.7M49 97.5h-2.7M49 128.54h-2.7M49 159.58h-2.7M49 190.62h-2.7" stroke="#222" stroke-width="0.65" fill="none"/>
<text x="37.84" y="8.58" font-size="11.7" text-anchor="start" fill="#000" textLength="5.86" lengthAdjust="spacingAndGlyphs">6</text>
<text x="37.84" y="39.62" font-size="11.7" text-anchor="start" fill="#000" textLength="5.86" lengthAdjust="spacingAndGlyphs">4</text>
<text x="37.84" y="70.66" font-size="11.7" text-anchor="start" fill="#000" textLength="5.86" lengthAdjust="spacingAndGlyphs">2</text>
<text x="37.84" y="101.7" font-size="11.7" text-anchor="start" fill="#000" textLength="5.86" lengthAdjust="spacingAndGlyphs">0</text>
<text x="28.34" y="132.74" font-size="11.7" text-anchor="start" fill="#000" textLength="8.3" lengthAdjust="spacingAndGlyphs">−</text>
<text x="37.84" y="132.74" font-size="11.7" text-anchor="start" fill="#000" textLength="5.86" lengthAdjust="spacingAndGlyphs">2</text>
<text x="28.34" y="163.78" font-size="11.7" text-anchor="start" fill="#000" textLength="8.3" lengthAdjust="spacingAndGlyphs">−</text>
<text x="37.84" y="163.78" font-size="11.7" text-anchor="start" fill="#000" textLength="5.86" lengthAdjust="spacingAndGlyphs">4</text>
<text x="28.34" y="194.82" font-size="11.7" text-anchor="start" fill="#000" textLength="8.3" lengthAdjust="spacingAndGlyphs">−</text>
<text x="37.84" y="194.82" font-size="11.7" text-anchor="start" fill="#000" textLength="5.86" lengthAdjust="spacingAndGlyphs">6</text>
<text x="142.3" y="219.5" font-size="11.7" text-anchor="middle" fill="#000" textLength="101.5" lengthAdjust="spacingAndGlyphs">Displacement <tspan font-style="italic">x</tspan> [µm]</text>
<text x="0" y="0" font-size="11.7" text-anchor="middle" fill="#000" transform="translate(22.9 96.7) rotate(-90)" textLength="103" lengthAdjust="spacingAndGlyphs">Displacement <tspan font-style="italic">y</tspan> [µm]</text>
<text x="0.4" y="13.6" font-size="17.5" text-anchor="start" fill="#000" textLength="21.6" lengthAdjust="spacingAndGlyphs">(a)</text>
<rect x="249.1" y="4.1" width="9.2" height="186.7" fill="url(#gj)"/>
<path d="M258.3 4.3h2.7M258.3 27.6h2.7M258.3 50.9h2.7M258.3 74.2h2.7M258.3 97.5h2.7M258.3 120.8h2.7M258.3 144.1h2.7M258.3 167.4h2.7M258.3 190.7h2.7" stroke="#222" stroke-width="0.65" fill="none"/>
<text x="263.7" y="8.5" font-size="11.7" text-anchor="start" fill="#000" textLength="5.86" lengthAdjust="spacingAndGlyphs">0</text>
<text x="263.7" y="31.8" font-size="11.7" text-anchor="start" fill="#000" textLength="8.3" lengthAdjust="spacingAndGlyphs">−</text>
<text x="273.2" y="31.8" font-size="11.7" text-anchor="start" fill="#000" textLength="5.86" lengthAdjust="spacingAndGlyphs">2</text>
<text x="263.7" y="55.1" font-size="11.7" text-anchor="start" fill="#000" textLength="8.3" lengthAdjust="spacingAndGlyphs">−</text>
<text x="273.2" y="55.1" font-size="11.7" text-anchor="start" fill="#000" textLength="5.86" lengthAdjust="spacingAndGlyphs">4</text>
<text x="263.7" y="78.4" font-size="11.7" text-anchor="start" fill="#000" textLength="8.3" lengthAdjust="spacingAndGlyphs">−</text>
<text x="273.2" y="78.4" font-size="11.7" text-anchor="start" fill="#000" textLength="5.86" lengthAdjust="spacingAndGlyphs">6</text>
<text x="263.7" y="101.7" font-size="11.7" text-anchor="start" fill="#000" textLength="8.3" lengthAdjust="spacingAndGlyphs">−</text>
<text x="273.2" y="101.7" font-size="11.7" text-anchor="start" fill="#000" textLength="5.86" lengthAdjust="spacingAndGlyphs">8</text>
<text x="263.7" y="125" font-size="11.7" text-anchor="start" fill="#000" textLength="8.3" lengthAdjust="spacingAndGlyphs">−</text>
<text x="273.2" y="125" font-size="11.7" text-anchor="start" fill="#000" textLength="11.71" lengthAdjust="spacingAndGlyphs">10</text>
<text x="263.7" y="148.3" font-size="11.7" text-anchor="start" fill="#000" textLength="8.3" lengthAdjust="spacingAndGlyphs">−</text>
<text x="273.2" y="148.3" font-size="11.7" text-anchor="start" fill="#000" textLength="11.71" lengthAdjust="spacingAndGlyphs">12</text>
<text x="263.7" y="171.6" font-size="11.7" text-anchor="start" fill="#000" textLength="8.3" lengthAdjust="spacingAndGlyphs">−</text>
<text x="273.2" y="171.6" font-size="11.7" text-anchor="start" fill="#000" textLength="11.71" lengthAdjust="spacingAndGlyphs">14</text>
<text x="263.7" y="194.9" font-size="11.7" text-anchor="start" fill="#000" textLength="8.3" lengthAdjust="spacingAndGlyphs">−</text>
<text x="273.2" y="194.9" font-size="11.7" text-anchor="start" fill="#000" textLength="11.71" lengthAdjust="spacingAndGlyphs">16</text>
<text x="0" y="0" font-size="11.7" text-anchor="middle" fill="#000" transform="translate(297.3 97.4) rotate(-90)" textLength="68" lengthAdjust="spacingAndGlyphs">Coupling [dB]</text>
<g clip-path="url(#cb)">
<rect x="354.2" y="3.9" width="102" height="186.7" fill="#000080"/>
<path d="M384.8 0.9L457.4 0.9L454.5 23L450.4 47.1L446.4 67.1L443.7 79.2L443.4 81.2L443.1 82L442.5 85.2L438.6 101.3L438.3 103.3L437.7 105.3L437.4 107.3L436.8 109.3L436.4 111.3L430.4 135.4L426.4 149.4L425.9 150.6L424.4 155.5L422.8 159.5L422.2 161.5L420.5 165.5L419.2 169.5L417.8 172.9L416.4 177.5L415.8 178.8L411.4 193.6L351.6 193.6L352.3 191.6L352.7 189.6L353.4 187.6L353.7 185.6L354.4 183.6L354.7 181.6L355.4 179.5L355.7 177.5L356.2 175.9L356.7 173.5L358.3 167.1L358.9 163.5L359.5 161.5L359.8 159.5L360.4 157.5L361.6 151.4L361.9 149.4L362.3 148.2L362.7 145.4L363.6 141.4L363.8 139.4L364.4 137.4L365 133.4L365.6 131.4L365.8 129.4L366.7 125.4L366.9 123.3L367.3 121.8L368 117.3L368.4 116.2L369.1 111.3L369.4 110.6L369.8 107.3L370.7 103.3L370.9 101.3L371.4 99.3L371.9 95.2L372.5 93.2L373 89.2L373.5 87.2L374 83.2L374.4 81.6L375 77.2L375.4 75.4L375.9 71.2L376.7 67.1L378 57.1L378.8 53.1L379.2 49.1L379.6 47.1L380 43.1L380.6 39L381 35L381.5 32.3L382.2 25L382.8 21L383.1 17L383.5 14.3L384.1 6.9Z" fill="#000089" stroke="#000089" stroke-width="0.3"/>
<path d="M385 0.9L457 0.9L454.1 23L452.2 35L449.3 51.1L444.3 75.2L435.2 115.3L430.1 135.4L426.1 149.4L424 155.5L416.7 175.5L411.1 193.6L351.9 193.6L356.5 175.5L361.4 153.5L365.8 131.4L372.7 93.2L376.9 67.1L379.8 47.1L382.8 23Z" fill="#00009b" stroke="#00009b" stroke-width="0.3"/>
<path d="M385.3 0.9L456.7 0.9L454.2 20.5L451.2 39L447.1 60.6L443.1 79.6L436 110.5L430.9 131.1L425.8 149.4L423 157.5L416.5 175.5L410.8 193.6L352.2 193.6L356.8 175.5L361.7 153.5L366.8 127.4L372.9 93.2L376.8 69.1L380.1 47.1L383 23Z" fill="#0000ad" stroke="#0000ad" stroke-width="0.3"/>
<path d="M385.3 2.9L385.5 0.9L456.3 0.9L455.1 10.9L453.2 25L449 49.1L443.1 78.4L435 113.7L430.1 133.4L426.2 147.4L422.9 157.3L415.6 177.5L410.6 193.6L352.4 193.6L357 175.5L361.9 153.5L367 127.4L373.1 93.2L376.8 71.2L380 49.1L383.1 25Z" fill="#0000bf" stroke="#0000bf" stroke-width="0.3"/>
<path d="M385.8 0.9L456 0.9L454 17L451.1 35.7L447.2 57.1L443.1 77.1L436 108.3L430.9 129.1L427.9 140.5L425.3 149.4L415.3 177.5L410.4 193.6L352.6 193.6L357.6 173.5L362.9 149.4L367.9 123.3L374 89.2L377.9 65.1L381.1 43.1L383.8 21Z" fill="#0000d1" stroke="#0000d1" stroke-width="0.3"/>
<path d="M386 0.9L455.7 0.9L453.1 20.8L450.1 39.8L446.1 61.1L442 80.5L435 111.5L429.9 132L425 149.4L415.1 177.5L410.2 193.6L352.9 193.6L357.9 173.5L362.7 151.4L367.8 125.4L373.9 91.2L377.8 67.1L381 45.1L384 21Z" fill="#0000e3" stroke="#0000e3" stroke-width="0.3"/>
<path d="M386.3 0.9L455.3 0.9L453.1 18.5L450.1 37.9L446.2 59.1L442 79.2L435 110.4L429.9 131L424.8 149.4L414.9 177.5L409.9 193.6L353.1 193.6L357.6 175.5L363 151.4L367.6 127.4L373.8 93.2L377.8 69.1L381 47.1L384 23Z" fill="#0000fa" stroke="#0000fa" stroke-width="0.3"/>
<path d="M386.4 2.9L386.6 0.9L455 0.9L451.9 25L449.9 37L447.1 53L442 77.8L434 113.5L429 133.4L425.1 147.4L421.9 157.4L414.7 177.5L409.7 193.6L353.3 193.6L357.8 175.5L362.8 153.5L367.9 127.4L374 93.2L378 69.1L381 49.1L384.1 25Z" fill="#0000ff" stroke="#0000ff" stroke-width="0.3"/>
<path d="M386.9 0.9L454.6 0.9L452.1 20.8L449.1 40L446 57.1L441 81.1L435 108L429.8 129.4L426.9 140.3L424.3 149.4L414.4 177.5L409.5 193.6L353.5 193.6L359 171.5L363.8 149.4L368.9 123.3L375 89.2L378.9 65.1L382.1 43.1L384.8 21Z" fill="#000cff" stroke="#000cff" stroke-width="0.3"/>
<path d="M387.1 0.9L454.3 0.9L451.8 21L448.2 43.1L444.1 65.1L440 84.4L434 111.1L428.9 131.8L424 149.4L414.2 177.5L409.3 193.6L353.8 193.6L358.8 173.5L363.7 151.4L368.7 125.4L374.9 91.2L378.8 67.1L382.1 45.1L384.8 23Z" fill="#001cff" stroke="#001cff" stroke-width="0.3"/>
<path d="M387.4 0.9L453.9 0.9L451.1 22.9L448.1 42L444.2 63.1L440 83L434 109.9L428.9 130.7L423.7 149.4L414 177.5L409 193.6L354 193.6L359 173.5L363.9 151.4L369 125.4L374.8 93.2L378.8 69.1L382.1 47.1L385.1 23Z" fill="#002cff" stroke="#002cff" stroke-width="0.3"/>
<path d="M387.7 0.9L453.5 0.9L451 21L447.2 45.1L443.1 67.1L439 86.2L433 112.9L427.9 133.4L422.9 151.2L414.4 175.5L408.8 193.6L354.2 193.6L358.8 175.5L363.8 153.5L368.9 127.4L375.1 93.2L379.1 69.1L382.9 43.1L385.9 19Z" fill="#003cff" stroke="#003cff" stroke-width="0.3"/>
<path d="M388.1 0.9L453.1 0.9L450.4 23L447.1 43.8L443.1 65.1L439 84.8L433 111.6L427.9 132.3L422.9 150.3L413.5 177.5L408.5 193.6L354.5 193.6L359 175.5L364 153.5L368.8 129.4L375 95.2L379 71.2L382.9 45.1L386 21Z" fill="#0050ff" stroke="#0050ff" stroke-width="0.3"/>
<path d="M388.4 0.9L452.7 0.9L450.1 22.2L446.2 47.1L443.1 63.7L439 83.3L433 110.3L427.9 131.2L422.9 149.4L413.2 177.5L408.3 193.6L354.8 193.6L359.8 173.5L364.7 151.4L369.8 125.4L376 91.2L380 67.1L383.2 45.1L386 23Z" fill="#0060ff" stroke="#0060ff" stroke-width="0.3"/>
<path d="M388.5 2.9L388.7 0.9L452.3 0.9L449.6 23L446.1 45.4L443.1 61.9L439 81.8L433 109L427.9 130L422.6 149.4L412.9 177.5L408 193.6L355 193.6L360 173.5L365 151.4L369.7 127.4L375.9 93.2L379.9 69.1L383.2 47.1L386.1 25Z" fill="#0070ff" stroke="#0070ff" stroke-width="0.3"/>
<path d="M389 0.9L451.9 0.9L449.1 23.8L445.1 49.1L441 70.4L437 89.6L430.9 116.3L426.9 132.7L421.9 150.7L412.7 177.5L407.8 193.6L355.3 193.6L359.8 175.5L364.9 153.5L368.8 133.4L375.8 95.2L379.9 71.2L383.8 45.1L386.9 21Z" fill="#0080ff" stroke="#0080ff" stroke-width="0.3"/>
<path d="M389.4 0.9L451.5 0.9L449.1 21L445.1 47.1L442 63.5L438 83.4L431.9 110.6L426.9 131.5L421.9 149.4L412.4 177.5L407.5 193.6L355.6 193.6L360.6 173.5L366 149.4L371 123.3L376.8 91.2L380.9 67.1L384.2 45.1L387 23Z" fill="#0090ff" stroke="#0090ff" stroke-width="0.3"/>
<path d="M389.5 2.9L389.7 0.9L451.1 0.9L448.1 25.2L444.1 50.6L441 66.8L437 86.5L430.9 113.5L426.9 130.2L421.6 149.4L412.1 177.5L407.2 193.6L355.9 193.6L360.9 173.5L365.9 151.4L371 125.4L376.8 93.2L381.2 67.1L384.8 43.1L387.1 25Z" fill="#00a0ff" stroke="#00a0ff" stroke-width="0.3"/>
<path d="M390.1 0.9L450.6 0.9L449.1 14.4L447.4 27L443.2 53.1L440 70.1L436 89.6L429.9 116.4L425.9 132.9L420.8 150.9L411.9 177.5L407 193.6L356.2 193.6L360.7 175.5L365.8 153.5L370.9 127.4L377.1 93.2L381.8 65.1L385.1 43.1L388 21Z" fill="#00b0ff" stroke="#00b0ff" stroke-width="0.3"/>
<path d="M390.5 0.9L450.2 0.9L447.1 26.4L443.1 51.9L440 68.2L436 87.9L429.9 115L425.9 131.6L420.8 149.9L411.6 177.5L406.7 193.6L356.5 193.6L361 175.5L366.1 153.5L370.8 129.4L377.1 95.2L381.9 67.1L385.2 45.1L388.1 23Z" fill="#00c4ff" stroke="#00c4ff" stroke-width="0.3"/>
<path d="M390.9 0.9L449.7 0.9L448.2 15L446.6 27L444.1 43.1L442.1 55.1L439 71.4L435 90.9L428.9 117.8L424.9 134.2L420 151.4L411.3 177.5L406.4 193.6L356.8 193.6L361.8 173.5L366.8 151.4L371.9 125.4L377.8 93.2L382.2 67.1L385.9 43.1L389 19Z" fill="#00d4ff" stroke="#00d4ff" stroke-width="0.3"/>
<path d="M391.3 0.9L449.3 0.9L447.9 12.9L446.1 27L442 53.1L439 69.4L435 89.2L428.9 116.3L424.9 132.8L419.8 151L411 177.5L406.1 193.6L357.1 193.6L361.6 175.5L366.7 153.5L370.8 133.4L377.8 95.2L381.9 71.2L386 45.1L388.9 23Z" fill="#00e4f8" stroke="#00e4f8" stroke-width="0.3"/>
<path d="M391.6 2.9L391.8 0.9L448.8 0.9L447.2 15L445.7 27L443.3 43.1L441 56.4L437.9 73.2L434 92.1L428.9 114.7L424.9 131.5L419.8 149.8L410 179.5L405.8 193.6L357.4 193.6L362 175.5L367.1 153.5L371.1 133.4L377.8 97.2L382 73.2L386.1 47.1L389.1 25Z" fill="#0cf4eb" stroke="#0cf4eb" stroke-width="0.3"/>
<path d="M392.2 0.9L448.3 0.9L447 12.9L445.1 28L442.8 43.1L440.1 59.1L437 75.6L433 95L427.9 117.5L423.9 134L419 151.4L410.4 177.5L405.5 193.6L357.8 193.6L361.8 177.5L367.9 151.4L371.9 131.4L378.2 97.2L383 69.1L387.1 43.1L390 21Z" fill="#19ffde" stroke="#19ffde" stroke-width="0.3"/>
<path d="M392.5 2.9L392.7 0.9L447.8 0.9L446.1 16.4L444.4 29L442.1 45.1L440 57.2L437 73.6L433 93.2L427.9 115.9L423.9 132.5L418.8 150.8L410 177.5L405.2 193.6L358.2 193.6L361.7 179.5L367.8 153.5L371.9 133.4L378.9 95.2L383.1 71.2L387.2 45.1L390.2 23Z" fill="#26ffd1" stroke="#26ffd1" stroke-width="0.3"/>
<path d="M393.2 0.9L447.3 0.9L445.7 15L444 29L441.6 45.1L439 60.4L436 76.6L433 91.4L427.9 114.2L423.8 131.4L418.8 149.6L409.1 179.5L404.9 193.6L358.5 193.6L362.6 177.5L368.7 151.4L373 129.4L378.9 97.2L384.2 67.1L387.9 43.1L390.9 21Z" fill="#36ffc1" stroke="#36ffc1" stroke-width="0.3"/>
<path d="M393.5 2.9L393.7 0.9L446.7 0.9L445.1 16.4L443.1 32L440.8 47.1L438 63.6L435 79.6L431.9 94.2L426.9 116.9L422.9 133.5L417.9 151.4L409.4 177.5L404.5 193.6L358.9 193.6L363 177.5L368.6 153.5L371.9 137.4L379 99.3L383.9 71.2L388.1 45.1L391.2 23Z" fill="#43ffb4" stroke="#43ffb4" stroke-width="0.3"/>
<path d="M394.2 0.9L446.2 0.9L444.2 19L442.1 35L440 49.1L437 66.6L434 82.5L429.9 101.5L425.9 119.5L422 135.4L417.8 150.4L408.4 179.5L404.2 193.6L359.3 193.6L362.9 179.5L369.1 153.5L373.1 133.4L379.8 97.2L385.1 67.1L388.9 43.1L391.9 21Z" fill="#50ffa7" stroke="#50ffa7" stroke-width="0.3"/>
<path d="M394.6 2.9L394.8 0.9L445.6 0.9L444.1 15.8L441.9 33L439 52.3L436 69.6L433 85.3L429.9 99.6L425.9 117.7L421.9 134.3L417.7 149.4L408.1 179.5L403.9 193.6L359.8 193.6L363.8 177.5L369.9 151.4L373.9 131.4L379.9 99.3L385.2 69.1L389.1 45.1L392.2 23Z" fill="#5dff9a" stroke="#5dff9a" stroke-width="0.3"/>
<path d="M395.4 0.9L445 0.9L443.1 19L441.1 35L439 49.1L436 67.1L433 83.1L429.9 97.6L425.9 115.9L421.9 132.7L416.8 151L408.3 177.5L403.5 193.6L360.2 193.6L370 153.5L372.8 139.4L380 101.3L386 67.1L389.9 43.1L393 21Z" fill="#6aff8d" stroke="#6aff8d" stroke-width="0.3"/>
<path d="M396 0.9L444.4 0.9L443 15L440.8 33L438 52.3L435 70L431.9 85.8L428.9 100.2L424.9 118.4L420.8 134.9L416.8 149.7L407.4 179.5L403.1 193.6L360.7 193.6L369.1 159.5L370.9 151.4L380.1 103.3L386.2 69.1L390.2 45.1L393.4 23Z" fill="#77ff80" stroke="#77ff80" stroke-width="0.3"/>
<path d="M396.5 2.9L396.7 0.9L443.8 0.9L442 18.5L440 35L437 55.1L433.9 73.2L430.9 88.5L427.9 102.8L423.9 120.8L420.8 133.4L415.8 151.4L407 179.5L402.8 193.6L361.1 193.6L371 153.5L373.8 139.4L379.9 107.3L387.1 67.1L391.1 43.1L394 23Z" fill="#87ff70" stroke="#87ff70" stroke-width="0.3"/>
<path d="M397.4 0.9L443.2 0.9L441.2 21L439 38L436.2 57.1L433 75.6L429.9 91.1L426.9 105.3L422.9 123.2L419.8 135.4L415.8 150.1L406.6 179.5L402.4 193.6L361.6 193.6L371.5 153.5L374 141.4L380 109.3L387 71.2L392 41L395.2 19Z" fill="#94ff63" stroke="#94ff63" stroke-width="0.3"/>
<path d="M398.1 0.9L442.6 0.9L440.5 21L438 41.2L435.3 59.1L431.9 78.4L429.8 89.2L425.9 107.8L422.8 121.3L419.8 133.7L415 151.4L402 193.6L362.1 193.6L372 153.5L374.9 139.4L381 107.3L387.9 69.1L392.3 43.1L395.3 23Z" fill="#a0ff56" stroke="#a0ff56" stroke-width="0.3"/>
<path d="M398.9 0.9L441.9 0.9L439.9 21L437 44.2L434.8 59.1L430.9 81L424.9 110.2L421.9 123.5L418.8 135.7L414.8 150.4L401.6 193.6L362.7 193.6L372.6 153.5L380.1 115.3L388.2 71.2L393 43.1L396.3 21Z" fill="#adff49" stroke="#adff49" stroke-width="0.3"/>
<path d="M399.5 2.9L399.7 0.9L441.2 0.9L439 23.2L436 47.1L433 66.7L430 83.2L423.9 112.5L420.8 125.7L417.9 137.4L414 151.4L401.2 193.6L363.3 193.6L373.2 153.5L379.9 119.3L389.2 69.1L394 41L397.1 21Z" fill="#baff3c" stroke="#baff3c" stroke-width="0.3"/>
<path d="M400.6 0.9L440.5 0.9L438.1 25L435.7 45.1L433 63.2L429.1 85.2L422.9 114.8L417.8 135.8L413.8 150.6L400.8 193.6L363.9 193.6L373.4 155.5L377.1 137.4L389.1 73.2L394.1 45.1L397.9 21Z" fill="#c7ff30" stroke="#c7ff30" stroke-width="0.3"/>
<path d="M401.5 0.9L439.8 0.9L437.7 23L435 45.4L432.1 65.1L428.9 83.2L422.9 112.4L417.8 133.9L413.6 149.4L400.4 193.6L364.5 193.6L370.4 169.7L374.1 155.5L377 141.4L391 67.1L395.3 43.1L399.1 19Z" fill="#d7ff1f" stroke="#d7ff1f" stroke-width="0.3"/>
<path d="M402.5 0.9L439 0.9L437 23L434 48.1L430.9 68.3L427.9 85.5L421.9 114.5L416.8 135.7L413.7 147.4L408.7 164.5L399.9 193.6L365.2 193.6L371.1 169.5L374.8 155.5L377.7 141.4L392.1 65.1L396.1 43.1L400 19Z" fill="#e4ff13" stroke="#e4ff13" stroke-width="0.3"/>
<path d="M403.5 0.9L438.2 0.9L436 25.2L433.2 49.1L429.9 70.7L426.9 87.8L420.8 116.6L415.8 137.4L408 165.5L399.5 193.6L365.9 193.6L371.4 171.1L375.5 155.5L378.1 143.4L397.4 41L401 19Z" fill="#f1fc06" stroke="#f1fc06" stroke-width="0.3"/>
<path d="M404.6 0.9L437.4 0.9L435 27L432.5 49.1L428.9 73L425.9 89.9L419.8 118.6L415.8 135.4L406.9 167.5L399 193.6L366.6 193.6L372.4 170L376.3 155.5L378.9 143.4L399 37L402.3 17Z" fill="#feed00" stroke="#feed00" stroke-width="0.3"/>
<path d="M405.7 0.9L436.5 0.9L434.4 25L431.8 49.1L428.9 69.1L424.9 91.9L418.8 120.5L414.8 137L406.7 166.3L398.5 193.6L367.4 193.6L373.3 169.5L377.2 155.5L379.3 145.4L400 37L403.4 17Z" fill="#ffde00" stroke="#ffde00" stroke-width="0.3"/>
<path d="M406.6 2.9L406.9 0.9L435.6 0.9L433.6 25L430.8 51.1L427.2 75.2L423.9 93.8L418.8 117.8L414.8 134.7L405.8 167.5L398 193.6L368.2 193.6L374.1 169.5L378 155.5L379.8 147.4L391.6 85.5L401.1 37L404.2 19Z" fill="#ffd000" stroke="#ffd000" stroke-width="0.3"/>
<path d="M408.1 0.9L434.6 0.9L432.7 25L429.9 51.5L426.9 73.2L424.9 85L422.9 95.6L417.8 119.5L413.8 136.2L404.7 169.5L397.5 193.6L369.1 193.6L374.5 171.5L378.9 155.5L380.7 147.4L392.6 85.2L402.2 37L405.4 19Z" fill="#ffc100" stroke="#ffc100" stroke-width="0.3"/>
<path d="M409.4 0.9L433.6 0.9L431.6 27L428.7 55.1L424.9 81L420.8 102.2L416.7 121.3L412.8 137.6L404.7 167.6L396.9 193.6L370 193.6L375.4 171.2L379.9 155.5L381.7 147.4L393.6 85.2L403.4 37L406.9 17Z" fill="#ffae00" stroke="#ffae00" stroke-width="0.3"/>
<path d="M410.7 0.9L432.5 0.9L430.6 27L427.9 55.1L425.9 69.7L423.9 82.6L419.8 103.7L415.6 123.3L411.8 138.9L403.6 169.5L396.4 193.6L371 193.6L376.3 171.5L380.9 155.5L382.3 149.4L394.6 85.2L405 35L408.2 17Z" fill="#ff9f00" stroke="#ff9f00" stroke-width="0.3"/>
<path d="M412.1 0.9L431.3 0.9L429.4 29L427.9 46.2L426.7 57.1L424.9 71.2L422.9 84.1L420.8 95.1L417.8 110L414 127.4L410.8 140.1L402.9 169.5L395.8 193.6L371.9 193.6L377.3 171.5L381.9 155.5L383.3 149.4L395.6 85.5L406.2 35L409.5 17Z" fill="#ff9100" stroke="#ff9100" stroke-width="0.3"/>
<path d="M413.6 0.9L429.9 0.9L428.1 31L426.9 46.4L425.8 57.1L423.9 72.2L421.9 85.2L416.8 111.2L412.8 129.4L405.8 155.5L402.9 167.5L395.2 193.6L373 193.6L378.3 171.5L383 155.5L384.4 149.4L396.6 86L407.9 33L411.3 15Z" fill="#ff8200" stroke="#ff8200" stroke-width="0.3"/>
<path d="M415.2 0.9L428.3 0.9L426.9 31L425.8 47.1L424.6 59.1L422.8 73.2L420.8 86.3L418.8 97.2L414.8 116.9L411.8 130.2L405.1 155.5L401.7 169.4L394.5 193.6L374 193.6L379.3 171.5L383.6 157.5L385.1 151.4L397.6 86.6L410.1 29L413.2 12.9Z" fill="#ff7300" stroke="#ff7300" stroke-width="0.3"/>
<path d="M416.7 2.9L417.1 0.9L426.2 0.9L426.1 15L425.7 27L424.8 43.1L423.7 57.1L421.9 73.3L419.8 87L416.8 103.1L413.8 117.7L410.8 130.9L404.2 155.5L400.9 169.5L393.8 193.6L375.1 193.6L380.4 171.5L384.7 157.5L386.2 151.4L398.6 87.5L410.3 35L414.1 17Z" fill="#ff6400" stroke="#ff6400" stroke-width="0.3"/>
<path d="M419.6 4.9L419.8 4.2L420.8 3.9L421.9 4.6L422 4.9L422.9 7.7L423.6 15L423.8 21L423.8 29L423.4 43.1L422.9 53.1L420.8 73L418.8 87.2L414.8 108.5L410.8 127.3L403.4 155.5L400.1 169.5L393.1 193.6L376.3 193.6L381.5 171.5L387 153.5L400.8 83.2L406.7 57L415.8 18.1L417.8 10L418.8 6.6Z" fill="#ff5200" stroke="#ff5200" stroke-width="0.3"/>
<path d="M417.5 25L417.8 24.4L418.8 24.4L419.8 25.2L420.8 28.3L421.2 31L421.5 37L421.6 45.1L421.5 51.1L421 59.1L419.6 73.2L417.8 87.2L413.8 108.5L409.7 127.4L402.4 155.5L399.3 169.5L392.2 193.6L377.4 193.6L382.7 171.5L387.2 157.5L388.7 151.4L393.6 125.7L400.7 90L407.7 59L410.8 46.8L414.8 31.9L416.8 25.9Z" fill="#ff4300" stroke="#ff4300" stroke-width="0.3"/>
<path d="M415.7 41L416.8 41L417.8 41.7L418.8 44.6L419.1 47.1L419.4 55.1L418.8 67.1L417.6 79.2L415.9 91.2L412.8 108L408.7 127L401.2 155.5L398.4 169.5L391.3 193.6L378.7 193.6L383.9 171.5L385.5 166.2L388.5 157.5L390.1 151.4L394.6 127.3L401.7 91.8L405.7 73.8L409.7 57.6L411.8 50.3L413.8 44.4L414.8 42.1Z" fill="#ff3400" stroke="#ff3400" stroke-width="0.3"/>
<path d="M412.6 57.1L413.8 55.4L414.8 55.4L415.8 56.4L416.4 59.1L416.6 61.1L416.7 67.1L416.5 73.2L415.9 81.2L415.1 87.2L412.8 101L408.7 121.3L405.7 133.8L400.3 153.5L397.3 169.5L395.6 175.9L390.3 193.6L380.1 193.6L385.5 170.5L386.5 167.2L390 157.5L391.2 153.5L392.9 145.4L396.4 125.4L403.7 89.2L405.7 80.5L408.7 69L410.8 62.1Z" fill="#ff2500" stroke="#ff2500" stroke-width="0.3"/>
<path d="M410.7 73.2L411.8 72.8L412.8 73.6L413.2 75.2L413.5 77.2L413.5 83.2L412.6 91.2L409.7 107.8L405.7 127.2L403.7 134.6L399.1 149.4L398 153.5L396.8 165.5L395.6 171.4L388.8 193.6L381.7 193.6L385.5 176.6L387.3 169.5L389.6 163.3L392 157.5L393.3 153.5L394.9 145.4L397.6 128L404.7 93.1L407.7 80.8L409.7 74.9Z" fill="#ff1600" stroke="#ff1600" stroke-width="0.3"/>
<path d="M391.3 165.5L391.6 165L392.6 164.3L393.6 164.7L393.9 165.5L394.1 167.5L393.6 171.5L391.6 178.3L389.6 183.9L387.5 188.4L386.5 190L385.6 189.6L386.5 182L387.5 176.6L388.5 172.2L389.4 169.5L390.6 166.7Z" fill="#f10800" stroke="#f10800" stroke-width="0.3"/>
<text transform="translate(426.7 132.9) rotate(-75.4)" font-size="5.6" text-anchor="middle" fill="#2a2a86" y="2">-10.0</text>
<text transform="translate(359.4 177.6) rotate(-76.4)" font-size="5.6" text-anchor="middle" fill="#2a2a86" y="2">-10.0</text>
<path d="M451.8 0.9L450.2 14.8L448.5 27.2L446.1 42L444 54.3L441.1 69.5L437.9 84.7L432.9 107.2L428.9 124.2M424.4 141.6L422.8 147.4L421 153.1L412.5 177.7L407.7 193.5M355.4 193.6L357.3 186.3M361.5 168.8L364.9 153.7L368.9 133.6L374.9 101.2L379.1 77L382 58.8L385.1 37L387.1 20.6L389.1 1.2" fill="none" stroke="#2a2a86" stroke-width="1.0" stroke-opacity="0.92"/>
<text transform="translate(422.8 118.3) rotate(-77.2)" font-size="5.6" text-anchor="middle" fill="#2f7f5a" y="2">-6.0</text>
<text transform="translate(388.9 69.3) rotate(-79.8)" font-size="5.6" text-anchor="middle" fill="#2f7f5a" y="2">-6.0</text>
<path d="M441.5 0.9L440.1 15.3L438.9 26.8L437 41.6L435 55.5L432.7 69.3L429.9 84.6L427.9 94.9L424.4 111M421.1 125.6L417.9 138.2L414.8 149.3L401.5 193.3M363.1 193.6L369.4 167.9L372 157.7L373.9 149.4L380.8 113.1L387.5 76.7M390.2 61.9L393.2 44.7L395.3 31.3L397.4 17L399.4 1.1" fill="none" stroke="#2f7f5a" stroke-width="1.0" stroke-opacity="0.92"/>
<text transform="translate(431.4 43.2) rotate(-83.6)" font-size="5.6" text-anchor="middle" fill="#86a542" y="2">-4.0</text>
<text transform="translate(400 44.5) rotate(-78.9)" font-size="5.6" text-anchor="middle" fill="#86a542" y="2">-4.0</text>
<text transform="translate(372.1 179) rotate(-76.6)" font-size="5.6" text-anchor="middle" fill="#86a542" y="2">-4.0</text>
<path d="M435.3 0.9L433.9 18.8L432.2 35.8M430.6 50.7L427.9 69.5L425.3 85.3L421.8 102.9L417.8 121.5L413.7 138L406.6 164L397.9 193.3M368.5 193.6L370.3 186.3M373.8 171.7L378.2 155.8L380 147.5L391.5 87.1L398.5 51.8M401.4 37.1L404.9 16.9L407.2 1.1" fill="none" stroke="#86a542" stroke-width="1.0" stroke-opacity="0.92"/>
<path d="M429.4 0.9L428.8 14.9L427.9 28.9L426.9 42.8L426 52.8L423.7 71.1L422.3 81L420.9 89.4L418.8 100.2L415.8 114.9L413.7 124.2L411.7 132.5L405.6 155.6L402.2 169.2L395.1 193.2M373.3 193.6L378.7 171.2L379.7 167.4L382.8 157.3L383.8 153.5L384.7 149.6L389.2 125.5L396.7 87.2L408.3 33L411.4 16.7L414.1 1" fill="none" stroke="#c4ae3a" stroke-width="1.0" stroke-opacity="0.92"/>
<text transform="translate(380.3 180.5) rotate(-76.9)" font-size="5.6" text-anchor="middle" fill="#e4b23c" y="2">-2.5</text>
<path d="M377.2 193.6L378.6 187.8M382 173.2L383.6 167.4L386.9 157.4L388.4 151.6L390.1 143.3L393.3 125.6L400.6 88.8L402.7 79L408.7 53.2L413.8 33.3L415.8 26.1L416.7 23.3L417.7 21L418 20.6L418.9 20.1L419.8 20.4L420.9 22.1L421.4 25.1L421.8 28.5L422 31L422.1 43L421.9 51L421.3 59.5L419.8 73.9L418.4 84.8L417 93.2L414.8 104.5L411.8 119.2L409.8 128L407.7 136.2L403.1 153.6L399.5 169.7L392.6 193.2" fill="none" stroke="#e4b23c" stroke-width="1.0" stroke-opacity="0.92"/>
<text transform="translate(405.7 81.1) rotate(-76.3)" font-size="5.6" text-anchor="middle" fill="#f2c850" y="2">-2.0</text>
<path d="M380.2 193.6L385.4 171.2L386.6 167.4L390.1 157.5L391.3 153.7L391.8 151.2L393 145.3L396.6 125.2L404 88.4M407.6 73.8L409.7 66.1L411.7 59.9L412.7 57.7L413.8 56.6L414.8 56.7L415.6 57.9L416 59.3L416.4 63.3L416.5 69.3L416.2 75.3L415.8 80.8L414.8 88.7L413.8 94.6L410.8 110.9L407.8 125.1L405.7 133.3L400.1 153.5L399.4 157.5L398.1 165.4L397.3 169.3L395.6 175.6L390.3 193.3" fill="none" stroke="#f2c850" stroke-width="1.0" stroke-opacity="0.92"/>
<path d="M382.2 193.6L386.5 174.1L387.6 169.7L389.5 164.6L394.3 153.6L395.2 149.2L396.6 137.7L397.6 130.8L398.6 125.4L405.7 91.1L407.7 83.4L408.8 80.1L409.9 77.8L410.7 77.2L411.1 77.3L411.6 77.5L411.8 77.8L412.3 79.3L412.5 80.8L412.7 83.2L412.4 87.2L411.8 92.7L410.8 99.1L407.7 115.3L405.7 125.1L403.8 132.4L401.7 139.1L398 149.4L396.9 153.3L396.7 155.2L396.6 163.2L395.7 169.7L393.5 177.4L388.4 193.6" fill="none" stroke="#f8de70" stroke-width="1.0" stroke-opacity="0.92"/>
</g>
<rect x="354.2" y="3.9" width="102" height="186.7" fill="none" stroke="#2a2a2a" stroke-width="0.65"/>
<path d="M381.75 190.6v2.7M455.75 190.6v2.7" stroke="#222" stroke-width="0.65" fill="none"/>
<text x="378.82" y="205.1" font-size="11.7" text-anchor="start" fill="#000" textLength="5.86" lengthAdjust="spacingAndGlyphs">0</text>
<text x="449.89" y="205.1" font-size="11.7" text-anchor="start" fill="#000" textLength="11.71" lengthAdjust="spacingAndGlyphs">20</text>
<path d="M354.2 4h-2.7M354.2 41.32h-2.7M354.2 78.64h-2.7M354.2 115.96h-2.7M354.2 153.28h-2.7M354.2 190.6h-2.7" stroke="#222" stroke-width="0.65" fill="none"/>
<text x="337.19" y="8.2" font-size="11.7" text-anchor="start" fill="#000" textLength="11.71" lengthAdjust="spacingAndGlyphs">50</text>
<text x="337.19" y="45.52" font-size="11.7" text-anchor="start" fill="#000" textLength="11.71" lengthAdjust="spacingAndGlyphs">40</text>
<text x="337.19" y="82.84" font-size="11.7" text-anchor="start" fill="#000" textLength="11.71" lengthAdjust="spacingAndGlyphs">30</text>
<text x="337.19" y="120.16" font-size="11.7" text-anchor="start" fill="#000" textLength="11.71" lengthAdjust="spacingAndGlyphs">20</text>
<text x="337.19" y="157.48" font-size="11.7" text-anchor="start" fill="#000" textLength="11.71" lengthAdjust="spacingAndGlyphs">10</text>
<text x="343.04" y="194.8" font-size="11.7" text-anchor="start" fill="#000" textLength="5.86" lengthAdjust="spacingAndGlyphs">0</text>
<text x="405" y="219.5" font-size="11.7" text-anchor="middle" fill="#000" textLength="101.5" lengthAdjust="spacingAndGlyphs">Displacement <tspan font-style="italic">y</tspan> [µm]</text>
<text x="0" y="0" font-size="11.7" text-anchor="middle" fill="#000" transform="translate(331.8 96.7) rotate(-90)" textLength="103" lengthAdjust="spacingAndGlyphs">Displacement <tspan font-style="italic">z</tspan> [µm]</text>
<text x="305.8" y="13.6" font-size="17.5" text-anchor="start" fill="#000" textLength="23.2" lengthAdjust="spacingAndGlyphs">(b)</text>
<rect x="468.6" y="4.1" width="9.4" height="186.7" fill="url(#gj)"/>
<path d="M478 4.3h2.7M478 27.6h2.7M478 50.9h2.7M478 74.2h2.7M478 97.5h2.7M478 120.8h2.7M478 144.1h2.7M478 167.4h2.7M478 190.7h2.7" stroke="#222" stroke-width="0.65" fill="none"/>
<text x="483.4" y="8.5" font-size="11.7" text-anchor="start" fill="#000" textLength="5.86" lengthAdjust="spacingAndGlyphs">0</text>
<text x="483.4" y="31.8" font-size="11.7" text-anchor="start" fill="#000" textLength="8.3" lengthAdjust="spacingAndGlyphs">−</text>
<text x="492.9" y="31.8" font-size="11.7" text-anchor="start" fill="#000" textLength="5.86" lengthAdjust="spacingAndGlyphs">2</text>
<text x="483.4" y="55.1" font-size="11.7" text-anchor="start" fill="#000" textLength="8.3" lengthAdjust="spacingAndGlyphs">−</text>
<text x="492.9" y="55.1" font-size="11.7" text-anchor="start" fill="#000" textLength="5.86" lengthAdjust="spacingAndGlyphs">4</text>
<text x="483.4" y="78.4" font-size="11.7" text-anchor="start" fill="#000" textLength="8.3" lengthAdjust="spacingAndGlyphs">−</text>
<text x="492.9" y="78.4" font-size="11.7" text-anchor="start" fill="#000" textLength="5.86" lengthAdjust="spacingAndGlyphs">6</text>
<text x="483.4" y="101.7" font-size="11.7" text-anchor="start" fill="#000" textLength="8.3" lengthAdjust="spacingAndGlyphs">−</text>
<text x="492.9" y="101.7" font-size="11.7" text-anchor="start" fill="#000" textLength="5.86" lengthAdjust="spacingAndGlyphs">8</text>
<text x="483.4" y="125" font-size="11.7" text-anchor="start" fill="#000" textLength="8.3" lengthAdjust="spacingAndGlyphs">−</text>
<text x="492.9" y="125" font-size="11.7" text-anchor="start" fill="#000" textLength="11.71" lengthAdjust="spacingAndGlyphs">10</text>
<text x="483.4" y="148.3" font-size="11.7" text-anchor="start" fill="#000" textLength="8.3" lengthAdjust="spacingAndGlyphs">−</text>
<text x="492.9" y="148.3" font-size="11.7" text-anchor="start" fill="#000" textLength="11.71" lengthAdjust="spacingAndGlyphs">12</text>
<text x="483.4" y="171.6" font-size="11.7" text-anchor="start" fill="#000" textLength="8.3" lengthAdjust="spacingAndGlyphs">−</text>
<text x="492.9" y="171.6" font-size="11.7" text-anchor="start" fill="#000" textLength="11.71" lengthAdjust="spacingAndGlyphs">14</text>
<text x="483.4" y="194.9" font-size="11.7" text-anchor="start" fill="#000" textLength="8.3" lengthAdjust="spacingAndGlyphs">−</text>
<text x="492.9" y="194.9" font-size="11.7" text-anchor="start" fill="#000" textLength="11.71" lengthAdjust="spacingAndGlyphs">16</text>
<text x="0" y="0" font-size="11.7" text-anchor="middle" fill="#000" transform="translate(516.6 97.2) rotate(-90)" textLength="68" lengthAdjust="spacingAndGlyphs">Coupling [dB]</text>
<g clip-path="url(#cc)">
<path d="M46.6 399.67h3.8M48.5 397.77v3.8M48.41 395.44h3.8M50.31 393.54v3.8M50.22 390.53h3.8M52.12 388.63v3.8M52.03 385.91h3.8M53.93 384.01v3.8M53.84 380.57h3.8M55.74 378.67v3.8M55.65 376.94h3.8M57.55 375.04v3.8M57.46 371.08h3.8M59.36 369.18v3.8M59.27 367.39h3.8M61.17 365.49v3.8M61.08 362.64h3.8M62.98 360.74v3.8M62.89 358.5h3.8M64.79 356.6v3.8M64.7 353.71h3.8M66.6 351.81v3.8M66.51 350.67h3.8M68.41 348.77v3.8M68.32 346.04h3.8M70.22 344.14v3.8M70.13 342.07h3.8M72.03 340.17v3.8M71.94 337.68h3.8M73.84 335.78v3.8M73.75 334.58h3.8M75.65 332.68v3.8M75.56 330.55h3.8M77.46 328.65v3.8M77.37 327.14h3.8M79.27 325.24v3.8M79.18 323.3h3.8M81.08 321.4v3.8M80.99 319.67h3.8M82.89 317.77v3.8M82.8 316.85h3.8M84.7 314.95v3.8M84.61 312.86h3.8M86.51 310.96v3.8M86.42 309.77h3.8M88.32 307.87v3.8M88.23 306.81h3.8M90.13 304.91v3.8M90.04 303.7h3.8M91.94 301.8v3.8M91.85 301.31h3.8M93.75 299.41v3.8M93.66 298.33h3.8M95.56 296.43v3.8M95.47 295.89h3.8M97.37 293.99v3.8M97.28 293.07h3.8M99.18 291.17v3.8M99.09 290.29h3.8M100.99 288.39v3.8M100.9 288.26h3.8M102.8 286.36v3.8M102.71 285.83h3.8M104.61 283.93v3.8M104.52 283.68h3.8M106.42 281.78v3.8M106.33 281.58h3.8M108.23 279.68v3.8M108.14 279.46h3.8M110.04 277.56v3.8M109.95 277.27h3.8M111.85 275.37v3.8M111.76 275.74h3.8M113.66 273.84v3.8M113.57 273.5h3.8M115.47 271.6v3.8M115.38 271.33h3.8M117.28 269.43v3.8M117.19 269.99h3.8M119.09 268.09v3.8M119 268.73h3.8M120.9 266.83v3.8M120.81 267.48h3.8M122.71 265.58v3.8M122.62 266.04h3.8M124.52 264.14v3.8M124.43 263.95h3.8M126.33 262.05v3.8M126.24 263.24h3.8M128.14 261.34v3.8M128.05 262.3h3.8M129.95 260.4v3.8M129.86 260.96h3.8M131.76 259.06v3.8M131.67 259.34h3.8M133.57 257.44v3.8M133.48 259.05h3.8M135.38 257.15v3.8M135.29 258.04h3.8M137.19 256.14v3.8M137.1 257.37h3.8M139 255.47v3.8M138.91 256.89h3.8M140.81 254.99v3.8M140.72 256.52h3.8M142.62 254.62v3.8M142.53 255.73h3.8M144.43 253.83v3.8M144.34 255.23h3.8M146.24 253.33v3.8M146.15 254.6h3.8M148.05 252.7v3.8M147.96 254.22h3.8M149.86 252.32v3.8M149.77 253.97h3.8M151.67 252.07v3.8M151.58 254.04h3.8M153.48 252.14v3.8M153.39 253.8h3.8M155.29 251.9v3.8M155.2 254.36h3.8M157.1 252.46v3.8M157.01 253.84h3.8M158.91 251.94v3.8M158.82 254.28h3.8M160.72 252.38v3.8M160.63 254.84h3.8M162.53 252.94v3.8M162.44 254.97h3.8M164.34 253.07v3.8M164.25 255.63h3.8M166.15 253.73v3.8M166.06 255.81h3.8M167.96 253.91v3.8M167.87 256.35h3.8M169.77 254.45v3.8M169.68 256.89h3.8M171.58 254.99v3.8M171.49 258.88h3.8M173.39 256.98v3.8M173.3 259.84h3.8M175.2 257.94v3.8M175.11 260.57h3.8M177.01 258.67v3.8M176.92 261.49h3.8M178.82 259.59v3.8M178.73 262.49h3.8M180.63 260.59v3.8M180.54 263.99h3.8M182.44 262.09v3.8M182.35 266.15h3.8M184.25 264.25v3.8M184.16 267.11h3.8M186.06 265.21v3.8M185.97 268.35h3.8M187.87 266.45v3.8M187.78 270.24h3.8M189.68 268.34v3.8M189.59 271.86h3.8M191.49 269.96v3.8M191.4 274.05h3.8M193.3 272.15v3.8M193.21 276.01h3.8M195.11 274.11v3.8M195.02 277.95h3.8M196.92 276.05v3.8M196.83 280.03h3.8M198.73 278.13v3.8M198.64 282.33h3.8M200.54 280.43v3.8M200.45 284.67h3.8M202.35 282.77v3.8M202.26 287.33h3.8M204.16 285.43v3.8M204.07 289.48h3.8M205.97 287.58v3.8M205.88 292.14h3.8M207.78 290.24v3.8M207.69 294.47h3.8M209.59 292.57v3.8M209.5 297.18h3.8M211.4 295.28v3.8M211.31 300.31h3.8M213.21 298.41v3.8M213.12 303.38h3.8M215.02 301.48v3.8M214.93 306.44h3.8M216.83 304.54v3.8M216.74 309.14h3.8M218.64 307.24v3.8M218.55 312.37h3.8M220.45 310.47v3.8M220.36 315.71h3.8M222.26 313.81v3.8M222.17 318.86h3.8M224.07 316.96v3.8M223.98 322.42h3.8M225.88 320.52v3.8M225.79 325.43h3.8M227.69 323.53v3.8M227.6 329.3h3.8M229.5 327.4v3.8M229.41 332.35h3.8M231.31 330.45v3.8M231.22 336.27h3.8M233.12 334.37v3.8M233.03 339.95h3.8M234.93 338.05v3.8M234.84 344.31h3.8M236.74 342.41v3.8M236.65 347.8h3.8M238.55 345.9v3.8M238.46 351.6h3.8M240.36 349.7v3.8M240.27 356.21h3.8M242.17 354.31v3.8M242.08 360.13h3.8M243.98 358.23v3.8M243.89 364.27h3.8M245.79 362.37v3.8M245.7 369.03h3.8M247.6 367.13v3.8M247.51 372.9h3.8M249.41 371v3.8M249.32 377.22h3.8M251.22 375.32v3.8M251.13 382.35h3.8M253.03 380.45v3.8M252.94 386.63h3.8M254.84 384.73v3.8M254.75 391.93h3.8M256.65 390.03v3.8M256.56 396.37h3.8M258.46 394.47v3.8M258.37 401.82h3.8M260.27 399.92v3.8M260.18 405.99h3.8M262.08 404.09v3.8M261.99 411.35h3.8M263.89 409.45v3.8M263.8 416.72h3.8M265.7 414.82v3.8" stroke="#1f77b4" stroke-width="0.8" fill="none"/>
<path d="M48.5 400.46L52.12 390.58L55.74 381.05L59.36 371.86L62.98 363.02L66.6 354.52L70.22 346.37L73.84 338.56L77.46 331.1L81.08 323.98L84.7 317.2L88.32 310.77L91.94 304.69L95.56 298.95L99.18 293.55L102.8 288.5L106.42 283.8L110.04 279.44L113.66 275.42L117.28 271.75L120.9 268.42L124.52 265.44L128.14 262.8L131.76 260.51L135.38 258.56L139 256.96L142.62 255.7L146.24 254.79L149.86 254.22L153.48 254L157.1 254.12L160.72 254.58L164.34 255.39L167.96 256.55L171.58 258.05L175.2 259.89L178.82 262.08L182.44 264.61L186.06 267.49L189.68 270.72L193.3 274.28L196.92 278.2L200.54 282.45L204.16 287.06L207.78 292L211.4 297.29L215.02 302.93L218.64 308.91L222.26 315.24L225.88 321.91L229.5 328.92L233.12 336.28L236.74 343.99L240.36 352.04L243.98 360.43L247.6 369.17L251.22 378.26L254.84 387.68L258.46 397.46L262.08 407.58L265.7 418.04" stroke="#ff7f0e" stroke-width="1.15" stroke-opacity="0.85" fill="none"/>
</g>
<rect x="49.4" y="237.4" width="216.1" height="186.4" fill="none" stroke="#7a7a7a" stroke-width="1.25"/>
<path d="M66.6 423.8v2.7M111.85 423.8v2.7M157.1 423.8v2.7M202.35 423.8v2.7M247.6 423.8v2.7" stroke="#222" stroke-width="0.65" fill="none"/>
<text x="54.53" y="438.3" font-size="11.7" text-anchor="start" fill="#000" textLength="8.3" lengthAdjust="spacingAndGlyphs">−</text>
<text x="64.03" y="438.3" font-size="11.7" text-anchor="start" fill="#000" textLength="14.64" lengthAdjust="spacingAndGlyphs">5.0</text>
<text x="99.78" y="438.3" font-size="11.7" text-anchor="start" fill="#000" textLength="8.3" lengthAdjust="spacingAndGlyphs">−</text>
<text x="109.28" y="438.3" font-size="11.7" text-anchor="start" fill="#000" textLength="14.64" lengthAdjust="spacingAndGlyphs">2.5</text>
<text x="149.78" y="438.3" font-size="11.7" text-anchor="start" fill="#000" textLength="14.64" lengthAdjust="spacingAndGlyphs">0.0</text>
<text x="195.03" y="438.3" font-size="11.7" text-anchor="start" fill="#000" textLength="14.64" lengthAdjust="spacingAndGlyphs">2.5</text>
<text x="240.28" y="438.3" font-size="11.7" text-anchor="start" fill="#000" textLength="14.64" lengthAdjust="spacingAndGlyphs">5.0</text>
<path d="M49.4 237.5h-2.7M49.4 264.1h-2.7M49.4 290.7h-2.7M49.4 317.3h-2.7M49.4 343.9h-2.7M49.4 370.5h-2.7M49.4 397.1h-2.7M49.4 423.7h-2.7" stroke="#222" stroke-width="0.65" fill="none"/>
<text x="28.74" y="241.7" font-size="11.7" text-anchor="start" fill="#000" textLength="8.3" lengthAdjust="spacingAndGlyphs">−</text>
<text x="38.24" y="241.7" font-size="11.7" text-anchor="start" fill="#000" textLength="5.86" lengthAdjust="spacingAndGlyphs">1</text>
<text x="28.74" y="268.3" font-size="11.7" text-anchor="start" fill="#000" textLength="8.3" lengthAdjust="spacingAndGlyphs">−</text>
<text x="38.24" y="268.3" font-size="11.7" text-anchor="start" fill="#000" textLength="5.86" lengthAdjust="spacingAndGlyphs">2</text>
<text x="28.74" y="294.9" font-size="11.7" text-anchor="start" fill="#000" textLength="8.3" lengthAdjust="spacingAndGlyphs">−</text>
<text x="38.24" y="294.9" font-size="11.7" text-anchor="start" fill="#000" textLength="5.86" lengthAdjust="spacingAndGlyphs">3</text>
<text x="28.74" y="321.5" font-size="11.7" text-anchor="start" fill="#000" textLength="8.3" lengthAdjust="spacingAndGlyphs">−</text>
<text x="38.24" y="321.5" font-size="11.7" text-anchor="start" fill="#000" textLength="5.86" lengthAdjust="spacingAndGlyphs">4</text>
<text x="28.74" y="348.1" font-size="11.7" text-anchor="start" fill="#000" textLength="8.3" lengthAdjust="spacingAndGlyphs">−</text>
<text x="38.24" y="348.1" font-size="11.7" text-anchor="start" fill="#000" textLength="5.86" lengthAdjust="spacingAndGlyphs">5</text>
<text x="28.74" y="374.7" font-size="11.7" text-anchor="start" fill="#000" textLength="8.3" lengthAdjust="spacingAndGlyphs">−</text>
<text x="38.24" y="374.7" font-size="11.7" text-anchor="start" fill="#000" textLength="5.86" lengthAdjust="spacingAndGlyphs">6</text>
<text x="28.74" y="401.3" font-size="11.7" text-anchor="start" fill="#000" textLength="8.3" lengthAdjust="spacingAndGlyphs">−</text>
<text x="38.24" y="401.3" font-size="11.7" text-anchor="start" fill="#000" textLength="5.86" lengthAdjust="spacingAndGlyphs">7</text>
<text x="28.74" y="427.9" font-size="11.7" text-anchor="start" fill="#000" textLength="8.3" lengthAdjust="spacingAndGlyphs">−</text>
<text x="38.24" y="427.9" font-size="11.7" text-anchor="start" fill="#000" textLength="5.86" lengthAdjust="spacingAndGlyphs">8</text>
<text x="157" y="452.5" font-size="11.7" text-anchor="middle" fill="#000" textLength="101.5" lengthAdjust="spacingAndGlyphs">Displacement <tspan font-style="italic">x</tspan> [µm]</text>
<text x="0" y="0" font-size="11.7" text-anchor="middle" fill="#000" transform="translate(23.2 330.4) rotate(-90)" textLength="67.5" lengthAdjust="spacingAndGlyphs">Coupling [dB]</text>
<text x="0.4" y="246.4" font-size="17.5" text-anchor="start" fill="#000" textLength="21" lengthAdjust="spacingAndGlyphs">(c)</text>
<rect x="101.3" y="379" width="111.8" height="38.3" rx="2" ry="2" fill="#fff" fill-opacity="0.8" stroke="#d8d8d8" stroke-width="0.8"/>
<path d="M117.1 388.3h3.8M119 386.4v3.8" stroke="#1f77b4" stroke-width="0.8" fill="none"/>
<path d="M106.3 406.2h24.6" stroke="#ff7f0e" stroke-width="1.2" fill="none"/>
<text x="141.7" y="392.8" font-size="11.7" text-anchor="start" fill="#000" textLength="65.8" lengthAdjust="spacingAndGlyphs">Measurement</text>
<text x="141.7" y="410.3" font-size="11.7" text-anchor="start" fill="#000" textLength="57.5" lengthAdjust="spacingAndGlyphs">Gaussian fit</text>
<g clip-path="url(#cd)">
<rect x="316" y="237.5" width="136.3" height="186.4" fill="#fff"/>
<path d="M334.3 414.8L341.6 430.3M332.1 406.5L329.8 391.6M338.9 412.5L363.6 414.5M337.4 406.1L340.3 402M339.4 407L343.7 403.6M330.9 409.7L324.5 402.7M331.4 415.6L322.2 436.4M335.1 407.4L340.1 396.5M335.7 414.3L352.6 428.6M330.3 410L316.3 400M326.4 416.7L312 426.9M327.9 408.2L308.3 393.5M338 411.6L348.2 410.7M334 408.8L338.2 394.7M337.4 414.1L343.4 416.9M331.1 419.5L325.5 441M334.7 405.9L339.2 389.3M330.4 415.1L320.4 427M368.6 384.6L366.2 362.3M369.6 383.2L375.8 335.4M368.2 379.4L365.1 347.2M364.1 394.1L334 431.2M364.5 381.6L339.9 346.5M373.8 386.7L421.6 373.6M373.8 386.4L416 372.7M365.2 392.3L350.4 408.9M376.5 388.9L411.8 393.2M363.7 382.8L339.1 358.9M366.3 391L330.8 429.9M372.7 381.6L398.9 336M364.7 382.2L349.4 361.8M369.6 383L373.7 345.7M366.3 393.8L347.5 434.6M364.6 385.8L339 372.6M371.7 384L392.9 352.8M373 390.6L392.9 403.4M365 394L333.5 441.2M365.7 384.7L332.8 351.7M363.4 382.3L336.6 354.8M373.7 385.1L399.9 368.7M360.5 387L315.4 381.6M363 388.2L318.1 389.9M363 390L308.6 408.6M376.3 384.7L396.4 375.6M368.1 348.2L303.8 324.4M369.7 357.9L356.9 388.2M365.3 354.2L321.6 378.1M378.7 347.4L410.3 333.1M371.6 344L360.5 297.2M375.5 352.9L421.8 406.4M381.5 347.6L418.4 337.1M379.1 351.8L435.6 368.6M371 347.3L348.4 317M372.1 346.8L353.7 282.1M377.5 349.7L405.5 347.8M380.5 349L424.4 343.4M364.6 351.2L326.4 356.4M379.3 352.2L415.5 364.8M369.4 342.1L353.3 307M373.1 353.3L374.3 419.9M380.7 354.1L429.3 380.2M379.7 345.8L406.3 329.3M376.9 357.8L392.7 389.3M374 346.1L384.2 307.1M370.9 346L342.4 291.4M376.6 346.6L405.2 319.5M390.5 306L422.7 311.6M378.6 301.8L328.4 276.3M379.8 301L321.3 256.4M377 303.4L333.4 294.8M387.7 308.3L432.4 362.7M386 312.6L395.2 384.5M381.3 303.9L321.4 286.8M378.9 310.8L351.4 336.7M385.6 310.9L390.9 364.4M387 309.9L411.1 368.2M381.7 305.6L330.2 315.3M380.1 307.9L353.8 323.3M383.7 313.6L373.1 383.3M392 302.3L437.8 284.4M389.4 303.2L444.7 280.3M380.2 302.1L344.5 280.2M381.7 311L361.2 348M382.1 309.2L355.9 347.2M388 299.5L402 273.4M384.7 299L381.1 231.2M380.1 305.2L308.1 307.6M387.2 309.1L412.4 357.5M387.4 302.2L418.1 265M378.1 303.6L345.6 296.9M385.2 298.7L387 244.2M381.4 308.3L326.7 359.1M397 261.8L425.4 260.7M389.2 255.4L366.2 215.3M391.6 266L384.1 288.1M388.5 266.5L353.4 300.9M396.5 262.7L439.8 271.9M391.2 258.7L379.5 237M399.8 263.2L427.3 268.1M393.4 269L394.7 291.2M389.5 261.2L366.4 255.8M389.2 255.2L372.8 226.1M387.1 266.2L370.4 278M391.5 270.3L382.7 319.3M395.9 262.7L443.4 274.4M385.8 264.3L347.7 276.1" stroke="#a055b8" stroke-opacity="0.055" stroke-width="0.8" fill="none"/>
<g transform="translate(387.2 292) rotate(13.3)">
<rect x="-9" y="-66" width="18" height="80" fill="#b040c8" fill-opacity="0.28" filter="url(#bl2)"/>
<g mask="url(#mbm)" filter="url(#bl1)"><rect x="-14" y="-70" width="28" height="90" fill="url(#pst)"/></g>
</g>
<path d="M369.3 382.4L370.1 374.7L371 366.5L371.5 358.2L372.1 350L373.2 337.6L372.5 320.1L371.1 298.7C374 295 378.5 292 383.3 291.7C389 291.5 394 293.5 397.4 295.9C400 298 402 301.5 403.2 305.2L395.6 321.8L387.7 341.1L383.8 350L380.8 358.2L378.4 366.5L376.2 374.7L372.7 383.4Z" fill="#f6eaf8"/>
<g clip-path="url(#cln)">
<path d="M368.5 386L374 386L376.5 376L380 365L383.2 355L387.2 340L393.8 320L399 305L399.5 290L375.5 290L375.3 305L374.3 320L373.6 340L372.6 355L371.3 365L370 376Z" fill="#b452c8" filter="url(#bl3)"/>
<path d="M369 386L373.5 386L375.6 376L378.4 365L381 355L384.6 340L390 320L394.5 305L395.5 288L379.5 288L378.6 305L377 320L375.3 340L373.8 355L372.4 365L371 376Z" fill="#8e20a6" filter="url(#bl3)"/>
<path d="M369 386L373.5 386L375.6 376L378.4 365L381 355L384.6 340L390 320L394.5 305L395.5 288L379.5 288L378.6 305L377 320L375.3 340L373.8 355L372.4 365L371 376Z" fill="url(#pht)" opacity="0.38" filter="url(#bl1)"/>
<g transform="translate(387.2 292) rotate(13.3)" opacity="0.45"><g mask="url(#mbm)" filter="url(#bl1)"><rect x="-14" y="-8" width="28" height="22" fill="url(#pst)"/></g></g>
</g>
<path d="M317.4 413.6L320.2 413.5L323 413.6L325.8 413.6L328.5 413.7L331.1 413.6L333.8 413.4L336.4 413.1L339 412.6L341.5 411.9L344 411L346.4 410L348.8 408.8L351.1 407.5L353.3 406L355.4 404.4L357.3 402.7L359.2 400.8L360.9 398.8L362.5 396.7L363.9 394.5L365.2 392.2L366.4 389.8L367.5 387.4L368.5 384.9L369.3 382.4L372.7 383.4L371.7 386.1L370.7 388.7L369.6 391.3L368.3 393.9L366.9 396.3L365.4 398.7L363.6 401L361.8 403.2L359.7 405.2L357.6 407.1L355.3 408.9L352.9 410.4L350.4 411.9L347.9 413.1L345.3 414.3L342.6 415.2L339.8 416L337 416.5L334.1 416.9L331.3 417.1L328.5 417.2L325.7 417.1L323 417.1L320.2 417L317.6 417.1Z" fill="#6e1288"/>
<rect x="318" y="414.3" width="3.8" height="2.1" fill="#fff"/>
<path d="M317.4 413.6L320.2 413.5L323 413.6L325.8 413.6L328.5 413.7L331.1 413.6L333.8 413.4L336.4 413.1L339 412.6L341.5 411.9L344 411L346.4 410L348.8 408.8L351.1 407.5L353.3 406L355.4 404.4L357.3 402.7L359.2 400.8L360.9 398.8L362.5 396.7L363.9 394.5L365.2 392.2L366.4 389.8L367.5 387.4L368.5 384.9L369.3 382.4L370.1 374.7L371 366.5L371.5 358.2L372.1 350L373.2 337.6L372.5 320.1L371.1 298.7C374 295 378.5 292 383.3 291.7C389 291.5 394 293.5 397.4 295.9C400 298 402 301.5 403.2 305.2L395.6 321.8L387.7 341.1L383.8 350L380.8 358.2L378.4 366.5L376.2 374.7L372.7 383.4L371.7 386.1L370.7 388.7L369.6 391.3L368.3 393.9L366.9 396.3L365.4 398.7L363.6 401L361.8 403.2L359.7 405.2L357.6 407.1L355.3 408.9L352.9 410.4L350.4 411.9L347.9 413.1L345.3 414.3L342.6 415.2L339.8 416L337 416.5L334.1 416.9L331.3 417.1L328.5 417.2L325.7 417.1L323 417.1L320.2 417L317.6 417.1Z" fill="none" stroke="#1d0729" stroke-width="1.1" stroke-linejoin="round"/>
</g>
<rect x="316" y="237.5" width="136.3" height="186.4" fill="none" stroke="#7a7a7a" stroke-width="1.25"/>
<path d="M316.2 423.9v2.7M398.05 423.9v2.7" stroke="#222" stroke-width="0.65" fill="none"/>
<text x="313.27" y="438.4" font-size="11.7" text-anchor="start" fill="#000" textLength="5.86" lengthAdjust="spacingAndGlyphs">0</text>
<text x="392.19" y="438.4" font-size="11.7" text-anchor="start" fill="#000" textLength="11.71" lengthAdjust="spacingAndGlyphs">50</text>
<path d="M316 260.2h-2.7M316 292.94h-2.7M316 325.68h-2.7M316 358.42h-2.7M316 391.16h-2.7M316 423.9h-2.7" stroke="#222" stroke-width="0.65" fill="none"/>
<text x="293.13" y="264.4" font-size="11.7" text-anchor="start" fill="#000" textLength="17.57" lengthAdjust="spacingAndGlyphs">100</text>
<text x="298.99" y="297.14" font-size="11.7" text-anchor="start" fill="#000" textLength="11.71" lengthAdjust="spacingAndGlyphs">80</text>
<text x="298.99" y="329.88" font-size="11.7" text-anchor="start" fill="#000" textLength="11.71" lengthAdjust="spacingAndGlyphs">60</text>
<text x="298.99" y="362.62" font-size="11.7" text-anchor="start" fill="#000" textLength="11.71" lengthAdjust="spacingAndGlyphs">40</text>
<text x="298.99" y="395.36" font-size="11.7" text-anchor="start" fill="#000" textLength="11.71" lengthAdjust="spacingAndGlyphs">20</text>
<text x="304.84" y="428.1" font-size="11.7" text-anchor="start" fill="#000" textLength="5.86" lengthAdjust="spacingAndGlyphs">0</text>
<text x="384.1" y="452.9" font-size="11.7" text-anchor="middle" fill="#000" textLength="32.7" lengthAdjust="spacingAndGlyphs">y [µm]</text>
<text x="0" y="0" font-size="11.7" text-anchor="middle" fill="#000" transform="translate(287.7 330.8) rotate(-90)" textLength="32.5" lengthAdjust="spacingAndGlyphs"><tspan font-style="italic" font-weight="bold">z</tspan> [µm]</text>
<text x="280.3" y="246.4" font-size="17.5" text-anchor="start" fill="#000" textLength="23.2" lengthAdjust="spacingAndGlyphs">(d)</text>
<rect x="464.7" y="237.1" width="10.3" height="187.1" fill="url(#gb)"/>
<path d="M475 237.4h2.7M475 268.5h2.7M475 299.6h2.7M475 330.7h2.7M475 361.8h2.7M475 392.9h2.7M475 424h2.7" stroke="#222" stroke-width="0.65" fill="none"/>
<text x="480.4" y="241.6" font-size="11.7" text-anchor="start" fill="#000" textLength="14.64" lengthAdjust="spacingAndGlyphs">1.5</text>
<text x="480.4" y="272.7" font-size="11.7" text-anchor="start" fill="#000" textLength="14.64" lengthAdjust="spacingAndGlyphs">1.0</text>
<text x="480.4" y="303.8" font-size="11.7" text-anchor="start" fill="#000" textLength="14.64" lengthAdjust="spacingAndGlyphs">0.5</text>
<text x="480.4" y="334.9" font-size="11.7" text-anchor="start" fill="#000" textLength="14.64" lengthAdjust="spacingAndGlyphs">0.0</text>
<text x="480.4" y="366" font-size="11.7" text-anchor="start" fill="#000" textLength="8.3" lengthAdjust="spacingAndGlyphs">−</text>
<text x="489.9" y="366" font-size="11.7" text-anchor="start" fill="#000" textLength="14.64" lengthAdjust="spacingAndGlyphs">0.5</text>
<text x="480.4" y="397.1" font-size="11.7" text-anchor="start" fill="#000" textLength="8.3" lengthAdjust="spacingAndGlyphs">−</text>
<text x="489.9" y="397.1" font-size="11.7" text-anchor="start" fill="#000" textLength="14.64" lengthAdjust="spacingAndGlyphs">1.0</text>
<text x="480.4" y="428.2" font-size="11.7" text-anchor="start" fill="#000" textLength="8.3" lengthAdjust="spacingAndGlyphs">−</text>
<text x="489.9" y="428.2" font-size="11.7" text-anchor="start" fill="#000" textLength="14.64" lengthAdjust="spacingAndGlyphs">1.5</text>
<text x="0" y="0" font-size="11.7" text-anchor="middle" fill="#000" transform="translate(515 331) rotate(-90)" textLength="60" lengthAdjust="spacingAndGlyphs">Re(<tspan font-style="italic">E</tspan><tspan font-style="italic" font-size="8.5" dy="2">y</tspan><tspan dy="-2">) [a.u.]</tspan></text>
</svg></body></html>
